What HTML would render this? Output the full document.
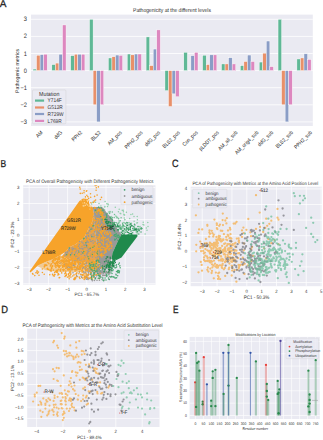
<!DOCTYPE html>
<html><head><meta charset="utf-8"><style>
html,body{margin:0;padding:0;background:#fff;width:323px;height:440px;overflow:hidden}
svg{display:block}
text{font-family:"Liberation Sans",sans-serif;text-rendering:geometricPrecision}
</style></head><body>
<svg width="323" height="440" viewBox="0 0 323 440">
<rect x="31.0" y="14.6" width="281.8" height="111.4" fill="#EAEAF2"/>
<line x1="31.0" x2="312.8" y1="121.90" y2="121.90" stroke="#fff" stroke-width="0.8"/>
<text transform="translate(27.00,123.90) scale(1,1.12)" font-size="5.7" text-anchor="end" fill="#333333" >−3</text>
<line x1="31.0" x2="312.8" y1="104.80" y2="104.80" stroke="#fff" stroke-width="0.8"/>
<text transform="translate(27.00,106.80) scale(1,1.12)" font-size="5.7" text-anchor="end" fill="#333333" >−2</text>
<line x1="31.0" x2="312.8" y1="87.70" y2="87.70" stroke="#fff" stroke-width="0.8"/>
<text transform="translate(27.00,89.70) scale(1,1.12)" font-size="5.7" text-anchor="end" fill="#333333" >−1</text>
<line x1="31.0" x2="312.8" y1="70.60" y2="70.60" stroke="#fff" stroke-width="0.8"/>
<text transform="translate(27.00,72.60) scale(1,1.12)" font-size="5.7" text-anchor="end" fill="#333333" >0</text>
<line x1="31.0" x2="312.8" y1="53.50" y2="53.50" stroke="#fff" stroke-width="0.8"/>
<text transform="translate(27.00,55.50) scale(1,1.12)" font-size="5.7" text-anchor="end" fill="#333333" >1</text>
<line x1="31.0" x2="312.8" y1="36.40" y2="36.40" stroke="#fff" stroke-width="0.8"/>
<text transform="translate(27.00,38.40) scale(1,1.12)" font-size="5.7" text-anchor="end" fill="#333333" >2</text>
<line x1="31.0" x2="312.8" y1="19.30" y2="19.30" stroke="#fff" stroke-width="0.8"/>
<text transform="translate(27.00,21.30) scale(1,1.12)" font-size="5.7" text-anchor="end" fill="#333333" >3</text>
<rect x="33.00" y="69.06" width="3.55" height="1.54" fill="#5fb896" stroke="#fff" stroke-width="0.4"/>
<rect x="36.55" y="55.21" width="3.55" height="15.39" fill="#e8906a" stroke="#fff" stroke-width="0.4"/>
<rect x="40.10" y="54.70" width="3.55" height="15.90" fill="#8a9dc6" stroke="#fff" stroke-width="0.4"/>
<rect x="43.65" y="54.18" width="3.55" height="16.42" fill="#dd87bf" stroke="#fff" stroke-width="0.4"/>
<text transform="translate(40.10,135.12) rotate(-45) scale(1,1.12)" font-size="4.8" text-anchor="middle" fill="#262626" dominant-baseline="central">AM</text>
<rect x="51.85" y="64.61" width="3.55" height="5.98" fill="#5fb896" stroke="#fff" stroke-width="0.4"/>
<rect x="55.40" y="63.08" width="3.55" height="7.52" fill="#e8906a" stroke="#fff" stroke-width="0.4"/>
<rect x="58.95" y="54.18" width="3.55" height="16.42" fill="#8a9dc6" stroke="#fff" stroke-width="0.4"/>
<rect x="62.50" y="24.94" width="3.55" height="45.66" fill="#dd87bf" stroke="#fff" stroke-width="0.4"/>
<text transform="translate(58.95,135.78) rotate(-45) scale(1,1.12)" font-size="4.8" text-anchor="middle" fill="#262626" dominant-baseline="central">ddG</text>
<rect x="70.70" y="55.72" width="3.55" height="14.88" fill="#5fb896" stroke="#fff" stroke-width="0.4"/>
<rect x="74.25" y="54.18" width="3.55" height="16.42" fill="#e8906a" stroke="#fff" stroke-width="0.4"/>
<rect x="77.80" y="54.18" width="3.55" height="16.42" fill="#8a9dc6" stroke="#fff" stroke-width="0.4"/>
<rect x="81.35" y="54.18" width="3.55" height="16.42" fill="#dd87bf" stroke="#fff" stroke-width="0.4"/>
<text transform="translate(77.80,137.01) rotate(-45) scale(1,1.12)" font-size="4.8" text-anchor="middle" fill="#262626" dominant-baseline="central">PPH2</text>
<rect x="89.55" y="19.30" width="3.55" height="51.30" fill="#5fb896" stroke="#fff" stroke-width="0.4"/>
<rect x="93.10" y="70.60" width="3.55" height="34.20" fill="#e8906a" stroke="#fff" stroke-width="0.4"/>
<rect x="96.65" y="70.60" width="3.55" height="51.30" fill="#8a9dc6" stroke="#fff" stroke-width="0.4"/>
<rect x="100.20" y="70.60" width="3.55" height="34.20" fill="#dd87bf" stroke="#fff" stroke-width="0.4"/>
<text transform="translate(96.65,136.72) rotate(-45) scale(1,1.12)" font-size="4.8" text-anchor="middle" fill="#262626" dominant-baseline="central">BLS2</text>
<rect x="108.40" y="57.95" width="3.55" height="12.65" fill="#5fb896" stroke="#fff" stroke-width="0.4"/>
<rect x="111.95" y="56.75" width="3.55" height="13.85" fill="#e8906a" stroke="#fff" stroke-width="0.4"/>
<rect x="115.50" y="55.04" width="3.55" height="15.56" fill="#8a9dc6" stroke="#fff" stroke-width="0.4"/>
<rect x="119.05" y="55.38" width="3.55" height="15.22" fill="#dd87bf" stroke="#fff" stroke-width="0.4"/>
<text transform="translate(115.50,138.80) rotate(-45) scale(1,1.12)" font-size="4.8" text-anchor="middle" fill="#262626" dominant-baseline="central">AM_pos</text>
<rect x="127.25" y="54.01" width="3.55" height="16.59" fill="#5fb896" stroke="#fff" stroke-width="0.4"/>
<rect x="130.80" y="54.87" width="3.55" height="15.73" fill="#e8906a" stroke="#fff" stroke-width="0.4"/>
<rect x="134.35" y="54.01" width="3.55" height="16.59" fill="#8a9dc6" stroke="#fff" stroke-width="0.4"/>
<rect x="137.90" y="54.01" width="3.55" height="16.59" fill="#dd87bf" stroke="#fff" stroke-width="0.4"/>
<text transform="translate(134.35,140.69) rotate(-45) scale(1,1.12)" font-size="4.8" text-anchor="middle" fill="#262626" dominant-baseline="central">PPH2_pos</text>
<rect x="146.10" y="36.91" width="3.55" height="33.69" fill="#5fb896" stroke="#fff" stroke-width="0.4"/>
<rect x="149.65" y="65.64" width="3.55" height="4.96" fill="#e8906a" stroke="#fff" stroke-width="0.4"/>
<rect x="153.20" y="49.05" width="3.55" height="21.55" fill="#8a9dc6" stroke="#fff" stroke-width="0.4"/>
<rect x="156.75" y="29.90" width="3.55" height="40.70" fill="#dd87bf" stroke="#fff" stroke-width="0.4"/>
<text transform="translate(153.20,139.46) rotate(-45) scale(1,1.12)" font-size="4.8" text-anchor="middle" fill="#262626" dominant-baseline="central">ddG_pos</text>
<rect x="164.95" y="70.60" width="3.55" height="20.01" fill="#5fb896" stroke="#fff" stroke-width="0.4"/>
<rect x="168.50" y="70.60" width="3.55" height="35.91" fill="#e8906a" stroke="#fff" stroke-width="0.4"/>
<rect x="172.05" y="70.60" width="3.55" height="23.26" fill="#8a9dc6" stroke="#fff" stroke-width="0.4"/>
<rect x="175.60" y="70.60" width="3.55" height="26.16" fill="#dd87bf" stroke="#fff" stroke-width="0.4"/>
<text transform="translate(172.05,140.40) rotate(-45) scale(1,1.12)" font-size="4.8" text-anchor="middle" fill="#262626" dominant-baseline="central">BLS2_pos</text>
<rect x="183.80" y="52.30" width="3.55" height="18.30" fill="#5fb896" stroke="#fff" stroke-width="0.4"/>
<rect x="190.90" y="55.72" width="3.55" height="14.88" fill="#8a9dc6" stroke="#fff" stroke-width="0.4"/>
<rect x="194.45" y="52.30" width="3.55" height="18.30" fill="#dd87bf" stroke="#fff" stroke-width="0.4"/>
<text transform="translate(190.90,139.37) rotate(-45) scale(1,1.12)" font-size="4.8" text-anchor="middle" fill="#262626" dominant-baseline="central">Con_pos</text>
<rect x="202.65" y="55.21" width="3.55" height="15.39" fill="#5fb896" stroke="#fff" stroke-width="0.4"/>
<rect x="206.20" y="64.61" width="3.55" height="5.98" fill="#e8906a" stroke="#fff" stroke-width="0.4"/>
<rect x="209.75" y="54.87" width="3.55" height="15.73" fill="#8a9dc6" stroke="#fff" stroke-width="0.4"/>
<rect x="213.30" y="54.87" width="3.55" height="15.73" fill="#dd87bf" stroke="#fff" stroke-width="0.4"/>
<text transform="translate(209.75,141.63) rotate(-45) scale(1,1.12)" font-size="4.8" text-anchor="middle" fill="#262626" dominant-baseline="central">pLDDT_pos</text>
<rect x="221.50" y="63.93" width="3.55" height="6.67" fill="#5fb896" stroke="#fff" stroke-width="0.4"/>
<rect x="225.05" y="63.93" width="3.55" height="6.67" fill="#e8906a" stroke="#fff" stroke-width="0.4"/>
<rect x="228.60" y="57.77" width="3.55" height="12.83" fill="#8a9dc6" stroke="#fff" stroke-width="0.4"/>
<rect x="232.15" y="63.93" width="3.55" height="6.67" fill="#dd87bf" stroke="#fff" stroke-width="0.4"/>
<text transform="translate(228.60,141.44) rotate(-45) scale(1,1.12)" font-size="4.8" text-anchor="middle" fill="#262626" dominant-baseline="central">AM_all_sub</text>
<rect x="240.35" y="65.64" width="3.55" height="4.96" fill="#5fb896" stroke="#fff" stroke-width="0.4"/>
<rect x="243.90" y="61.54" width="3.55" height="9.06" fill="#e8906a" stroke="#fff" stroke-width="0.4"/>
<rect x="247.45" y="55.04" width="3.55" height="15.56" fill="#8a9dc6" stroke="#fff" stroke-width="0.4"/>
<rect x="251.00" y="61.54" width="3.55" height="9.06" fill="#dd87bf" stroke="#fff" stroke-width="0.4"/>
<text transform="translate(247.45,143.51) rotate(-45) scale(1,1.12)" font-size="4.8" text-anchor="middle" fill="#262626" dominant-baseline="central">AM_orig4_sub</text>
<rect x="259.20" y="62.05" width="3.55" height="8.55" fill="#5fb896" stroke="#fff" stroke-width="0.4"/>
<rect x="262.75" y="53.16" width="3.55" height="17.44" fill="#e8906a" stroke="#fff" stroke-width="0.4"/>
<rect x="266.30" y="41.02" width="3.55" height="29.58" fill="#8a9dc6" stroke="#fff" stroke-width="0.4"/>
<rect x="269.85" y="66.67" width="3.55" height="3.93" fill="#dd87bf" stroke="#fff" stroke-width="0.4"/>
<text transform="translate(266.30,139.46) rotate(-45) scale(1,1.12)" font-size="4.8" text-anchor="middle" fill="#262626" dominant-baseline="central">ddG_sub</text>
<rect x="278.05" y="19.30" width="3.55" height="51.30" fill="#5fb896" stroke="#fff" stroke-width="0.4"/>
<rect x="281.60" y="70.60" width="3.55" height="34.20" fill="#e8906a" stroke="#fff" stroke-width="0.4"/>
<rect x="285.15" y="70.60" width="3.55" height="51.30" fill="#8a9dc6" stroke="#fff" stroke-width="0.4"/>
<rect x="288.70" y="70.60" width="3.55" height="34.20" fill="#dd87bf" stroke="#fff" stroke-width="0.4"/>
<text transform="translate(285.15,140.40) rotate(-45) scale(1,1.12)" font-size="4.8" text-anchor="middle" fill="#262626" dominant-baseline="central">BLS2_sub</text>
<rect x="296.90" y="58.97" width="3.55" height="11.63" fill="#5fb896" stroke="#fff" stroke-width="0.4"/>
<rect x="300.45" y="57.95" width="3.55" height="12.65" fill="#e8906a" stroke="#fff" stroke-width="0.4"/>
<rect x="304.00" y="53.84" width="3.55" height="16.76" fill="#8a9dc6" stroke="#fff" stroke-width="0.4"/>
<rect x="307.55" y="59.48" width="3.55" height="11.12" fill="#dd87bf" stroke="#fff" stroke-width="0.4"/>
<text transform="translate(304.00,140.69) rotate(-45) scale(1,1.12)" font-size="4.8" text-anchor="middle" fill="#262626" dominant-baseline="central">PPH2_sub</text>
<text transform="translate(172.00,12.00) scale(1,1.12)" font-size="5.04" text-anchor="middle" fill="#333333" >Pathogenicity at the different levels</text>
<text transform="translate(19.2,70.9) rotate(-90)" font-size="5.2" text-anchor="middle" fill="#262626">Pathogenic metrics</text>
<rect x="32.5" y="89.9" width="33.4" height="33.9" rx="1" fill="#EAEAF2" fill-opacity="0.8" stroke="#ccc" stroke-width="0.4"/>
<text transform="translate(49.20,96.00) scale(1,1.12)" font-size="5.3" text-anchor="middle" fill="#333333" >Mutation</text>
<rect x="35" y="99.50" width="9.1" height="2.2" fill="#5fb896"/>
<text transform="translate(47.60,102.30) scale(1,1.12)" font-size="4.8" text-anchor="start" fill="#333333" >Y714F</text>
<rect x="35" y="106.40" width="9.1" height="2.2" fill="#e8906a"/>
<text transform="translate(47.60,109.20) scale(1,1.12)" font-size="4.8" text-anchor="start" fill="#333333" >G512R</text>
<rect x="35" y="112.90" width="9.1" height="2.2" fill="#8a9dc6"/>
<text transform="translate(47.60,115.70) scale(1,1.12)" font-size="4.8" text-anchor="start" fill="#333333" >R729W</text>
<rect x="35" y="119.80" width="9.1" height="2.2" fill="#dd87bf"/>
<text transform="translate(47.60,122.60) scale(1,1.12)" font-size="4.8" text-anchor="start" fill="#333333" >L769R</text>
<text transform="translate(-0.3,6.9) scale(1.0,1)" font-size="10.0" fill="#262626" stroke="#262626" stroke-width="0.3">A</text>
<rect x="23.2" y="185.2" width="132.3" height="99.60000000000002" fill="#EAEAF2"/>
<line x1="29.20" x2="29.20" y1="185.2" y2="284.8" stroke="#fff" stroke-width="0.7"/>
<line x1="23.2" x2="155.5" y1="283.75" y2="283.75" stroke="#fff" stroke-width="0.7"/>
<text transform="translate(19.50,285.25) scale(1,1.12)" font-size="4.3" text-anchor="end" fill="#333333" >−3</text>
<text transform="translate(29.20,290.80) scale(1,1.12)" font-size="4.3" text-anchor="middle" fill="#333333" >−3</text>
<line x1="48.40" x2="48.40" y1="185.2" y2="284.8" stroke="#fff" stroke-width="0.7"/>
<line x1="23.2" x2="155.5" y1="267.70" y2="267.70" stroke="#fff" stroke-width="0.7"/>
<text transform="translate(19.50,269.20) scale(1,1.12)" font-size="4.3" text-anchor="end" fill="#333333" >−2</text>
<text transform="translate(48.40,290.80) scale(1,1.12)" font-size="4.3" text-anchor="middle" fill="#333333" >−2</text>
<line x1="67.60" x2="67.60" y1="185.2" y2="284.8" stroke="#fff" stroke-width="0.7"/>
<line x1="23.2" x2="155.5" y1="251.65" y2="251.65" stroke="#fff" stroke-width="0.7"/>
<text transform="translate(19.50,253.15) scale(1,1.12)" font-size="4.3" text-anchor="end" fill="#333333" >−1</text>
<text transform="translate(67.60,290.80) scale(1,1.12)" font-size="4.3" text-anchor="middle" fill="#333333" >−1</text>
<line x1="86.80" x2="86.80" y1="185.2" y2="284.8" stroke="#fff" stroke-width="0.7"/>
<line x1="23.2" x2="155.5" y1="235.60" y2="235.60" stroke="#fff" stroke-width="0.7"/>
<text transform="translate(19.50,237.10) scale(1,1.12)" font-size="4.3" text-anchor="end" fill="#333333" >0</text>
<text transform="translate(86.80,290.80) scale(1,1.12)" font-size="4.3" text-anchor="middle" fill="#333333" >0</text>
<line x1="106.00" x2="106.00" y1="185.2" y2="284.8" stroke="#fff" stroke-width="0.7"/>
<line x1="23.2" x2="155.5" y1="219.55" y2="219.55" stroke="#fff" stroke-width="0.7"/>
<text transform="translate(19.50,221.05) scale(1,1.12)" font-size="4.3" text-anchor="end" fill="#333333" >1</text>
<text transform="translate(106.00,290.80) scale(1,1.12)" font-size="4.3" text-anchor="middle" fill="#333333" >1</text>
<line x1="125.20" x2="125.20" y1="185.2" y2="284.8" stroke="#fff" stroke-width="0.7"/>
<line x1="23.2" x2="155.5" y1="203.50" y2="203.50" stroke="#fff" stroke-width="0.7"/>
<text transform="translate(19.50,205.00) scale(1,1.12)" font-size="4.3" text-anchor="end" fill="#333333" >2</text>
<text transform="translate(125.20,290.80) scale(1,1.12)" font-size="4.3" text-anchor="middle" fill="#333333" >2</text>
<line x1="144.40" x2="144.40" y1="185.2" y2="284.8" stroke="#fff" stroke-width="0.7"/>
<line x1="23.2" x2="155.5" y1="187.45" y2="187.45" stroke="#fff" stroke-width="0.7"/>
<text transform="translate(19.50,188.95) scale(1,1.12)" font-size="4.3" text-anchor="end" fill="#333333" >3</text>
<text transform="translate(144.40,290.80) scale(1,1.12)" font-size="4.3" text-anchor="middle" fill="#333333" >3</text>
<text transform="translate(89.80,182.60) scale(1,1.12)" font-size="4.44" text-anchor="middle" fill="#333333" >PCA of Overall Pathogenicity with Different Pathogenicity Metrics</text>
<text transform="translate(86.80,296.40) scale(1,1.12)" font-size="4.3" text-anchor="middle" fill="#333333" >PC1 - 65.7%</text>
<text transform="translate(13.6,234.6) rotate(-90)" font-size="4.6" text-anchor="middle" fill="#262626">PC2 - 23.3%</text>
<text transform="translate(0.5,166.7) scale(0.85,1)" font-size="10.0" fill="#262626" stroke="#262626" stroke-width="0.3">B</text>
<rect x="190.6" y="186.7" width="131.4" height="99.5" fill="#EAEAF2"/>
<line x1="202.22" x2="202.22" y1="186.7" y2="286.2" stroke="#fff" stroke-width="0.7"/>
<text transform="translate(202.22,293.00) scale(1,1.12)" font-size="4.3" text-anchor="middle" fill="#333333" >−3</text>
<line x1="217.08" x2="217.08" y1="186.7" y2="286.2" stroke="#fff" stroke-width="0.7"/>
<text transform="translate(217.08,293.00) scale(1,1.12)" font-size="4.3" text-anchor="middle" fill="#333333" >−2</text>
<line x1="231.94" x2="231.94" y1="186.7" y2="286.2" stroke="#fff" stroke-width="0.7"/>
<text transform="translate(231.94,293.00) scale(1,1.12)" font-size="4.3" text-anchor="middle" fill="#333333" >−1</text>
<line x1="246.80" x2="246.80" y1="186.7" y2="286.2" stroke="#fff" stroke-width="0.7"/>
<text transform="translate(246.80,293.00) scale(1,1.12)" font-size="4.3" text-anchor="middle" fill="#333333" >0</text>
<line x1="261.66" x2="261.66" y1="186.7" y2="286.2" stroke="#fff" stroke-width="0.7"/>
<text transform="translate(261.66,293.00) scale(1,1.12)" font-size="4.3" text-anchor="middle" fill="#333333" >1</text>
<line x1="276.52" x2="276.52" y1="186.7" y2="286.2" stroke="#fff" stroke-width="0.7"/>
<text transform="translate(276.52,293.00) scale(1,1.12)" font-size="4.3" text-anchor="middle" fill="#333333" >2</text>
<line x1="291.38" x2="291.38" y1="186.7" y2="286.2" stroke="#fff" stroke-width="0.7"/>
<text transform="translate(291.38,293.00) scale(1,1.12)" font-size="4.3" text-anchor="middle" fill="#333333" >3</text>
<line x1="306.24" x2="306.24" y1="186.7" y2="286.2" stroke="#fff" stroke-width="0.7"/>
<text transform="translate(306.24,293.00) scale(1,1.12)" font-size="4.3" text-anchor="middle" fill="#333333" >4</text>
<line x1="321.10" x2="321.10" y1="186.7" y2="286.2" stroke="#fff" stroke-width="0.7"/>
<text transform="translate(321.10,293.00) scale(1,1.12)" font-size="4.3" text-anchor="middle" fill="#333333" >5</text>
<line x1="190.6" x2="322.0" y1="282.50" y2="282.50" stroke="#fff" stroke-width="0.7"/>
<text transform="translate(187.20,284.00) scale(1,1.12)" font-size="4.3" text-anchor="end" fill="#333333" >−2</text>
<line x1="190.6" x2="322.0" y1="266.90" y2="266.90" stroke="#fff" stroke-width="0.7"/>
<text transform="translate(187.20,268.40) scale(1,1.12)" font-size="4.3" text-anchor="end" fill="#333333" >−1</text>
<line x1="190.6" x2="322.0" y1="251.30" y2="251.30" stroke="#fff" stroke-width="0.7"/>
<text transform="translate(187.20,252.80) scale(1,1.12)" font-size="4.3" text-anchor="end" fill="#333333" >0</text>
<line x1="190.6" x2="322.0" y1="235.70" y2="235.70" stroke="#fff" stroke-width="0.7"/>
<text transform="translate(187.20,237.20) scale(1,1.12)" font-size="4.3" text-anchor="end" fill="#333333" >1</text>
<line x1="190.6" x2="322.0" y1="220.10" y2="220.10" stroke="#fff" stroke-width="0.7"/>
<text transform="translate(187.20,221.60) scale(1,1.12)" font-size="4.3" text-anchor="end" fill="#333333" >2</text>
<line x1="190.6" x2="322.0" y1="204.50" y2="204.50" stroke="#fff" stroke-width="0.7"/>
<text transform="translate(187.20,206.00) scale(1,1.12)" font-size="4.3" text-anchor="end" fill="#333333" >3</text>
<line x1="190.6" x2="322.0" y1="188.90" y2="188.90" stroke="#fff" stroke-width="0.7"/>
<text transform="translate(187.20,190.40) scale(1,1.12)" font-size="4.3" text-anchor="end" fill="#333333" >4</text>
<text transform="translate(255.30,185.10) scale(1,1.12)" font-size="4.28" text-anchor="middle" fill="#333333" >PCA of Pathogenicity with Metrics at the Amino Acid Position Level</text>
<text transform="translate(256.50,298.50) scale(1,1.12)" font-size="4.5" text-anchor="middle" fill="#333333" >PC1 - 50.3%</text>
<text transform="translate(181.3,236.6) rotate(-90)" font-size="4.6" text-anchor="middle" fill="#262626">PC2 - 18.4%</text>
<text transform="translate(171.9,167.2) scale(0.85,1)" font-size="10.6" fill="#262626" stroke="#262626" stroke-width="0.3">C</text>
<rect x="27.2" y="328.6" width="132.3" height="98.39999999999998" fill="#EAEAF2"/>
<line x1="36.60" x2="36.60" y1="328.6" y2="427.0" stroke="#fff" stroke-width="0.7"/>
<text transform="translate(36.60,433.40) scale(1,1.12)" font-size="4.3" text-anchor="middle" fill="#333333" >−4</text>
<line x1="63.00" x2="63.00" y1="328.6" y2="427.0" stroke="#fff" stroke-width="0.7"/>
<text transform="translate(63.00,433.40) scale(1,1.12)" font-size="4.3" text-anchor="middle" fill="#333333" >−2</text>
<line x1="89.40" x2="89.40" y1="328.6" y2="427.0" stroke="#fff" stroke-width="0.7"/>
<text transform="translate(89.40,433.40) scale(1,1.12)" font-size="4.3" text-anchor="middle" fill="#333333" >0</text>
<line x1="115.80" x2="115.80" y1="328.6" y2="427.0" stroke="#fff" stroke-width="0.7"/>
<text transform="translate(115.80,433.40) scale(1,1.12)" font-size="4.3" text-anchor="middle" fill="#333333" >2</text>
<line x1="142.20" x2="142.20" y1="328.6" y2="427.0" stroke="#fff" stroke-width="0.7"/>
<text transform="translate(142.20,433.40) scale(1,1.12)" font-size="4.3" text-anchor="middle" fill="#333333" >4</text>
<line x1="27.2" x2="159.5" y1="418.40" y2="418.40" stroke="#fff" stroke-width="0.7"/>
<text transform="translate(23.50,419.90) scale(1,1.12)" font-size="4.3" text-anchor="end" fill="#333333" >−1.5</text>
<line x1="27.2" x2="159.5" y1="407.10" y2="407.10" stroke="#fff" stroke-width="0.7"/>
<text transform="translate(23.50,408.60) scale(1,1.12)" font-size="4.3" text-anchor="end" fill="#333333" >−1.0</text>
<line x1="27.2" x2="159.5" y1="395.80" y2="395.80" stroke="#fff" stroke-width="0.7"/>
<text transform="translate(23.50,397.30) scale(1,1.12)" font-size="4.3" text-anchor="end" fill="#333333" >−0.5</text>
<line x1="27.2" x2="159.5" y1="384.50" y2="384.50" stroke="#fff" stroke-width="0.7"/>
<text transform="translate(23.50,386.00) scale(1,1.12)" font-size="4.3" text-anchor="end" fill="#333333" >0.0</text>
<line x1="27.2" x2="159.5" y1="373.20" y2="373.20" stroke="#fff" stroke-width="0.7"/>
<text transform="translate(23.50,374.70) scale(1,1.12)" font-size="4.3" text-anchor="end" fill="#333333" >0.5</text>
<line x1="27.2" x2="159.5" y1="361.90" y2="361.90" stroke="#fff" stroke-width="0.7"/>
<text transform="translate(23.50,363.40) scale(1,1.12)" font-size="4.3" text-anchor="end" fill="#333333" >1.0</text>
<line x1="27.2" x2="159.5" y1="350.60" y2="350.60" stroke="#fff" stroke-width="0.7"/>
<text transform="translate(23.50,352.10) scale(1,1.12)" font-size="4.3" text-anchor="end" fill="#333333" >1.5</text>
<line x1="27.2" x2="159.5" y1="339.30" y2="339.30" stroke="#fff" stroke-width="0.7"/>
<text transform="translate(23.50,340.80) scale(1,1.12)" font-size="4.3" text-anchor="end" fill="#333333" >2.0</text>
<text transform="translate(22.50,327.00) scale(1,1.12)" font-size="4.5" text-anchor="start" fill="#333333" >PCA of Pathogenicity with Metrics at the Amino Acid Substitution Level</text>
<text transform="translate(89.40,439.00) scale(1,1.12)" font-size="4.3" text-anchor="middle" fill="#333333" >PC1 - 89.4%</text>
<text transform="translate(13.6,378) rotate(-90)" font-size="4.6" text-anchor="middle" fill="#262626">PC2 - 13.1%</text>
<text transform="translate(1.2,313.0) scale(0.9,1)" font-size="10.4" fill="#262626" stroke="#262626" stroke-width="0.3">D</text>
<rect x="189.6" y="336.9" width="130.20000000000002" height="82.10000000000002" fill="#EAEAF2"/>
<line x1="195.40" x2="195.40" y1="336.9" y2="419.0" stroke="#fff" stroke-width="0.6"/>
<text transform="translate(195.40,424.60) scale(1,1.12)" font-size="3.4" text-anchor="middle" fill="#333333" >0</text>
<line x1="203.42" x2="203.42" y1="336.9" y2="419.0" stroke="#fff" stroke-width="0.6"/>
<text transform="translate(203.42,424.60) scale(1,1.12)" font-size="3.4" text-anchor="middle" fill="#333333" >50</text>
<line x1="211.43" x2="211.43" y1="336.9" y2="419.0" stroke="#fff" stroke-width="0.6"/>
<text transform="translate(211.43,424.60) scale(1,1.12)" font-size="3.4" text-anchor="middle" fill="#333333" >100</text>
<line x1="219.44" x2="219.44" y1="336.9" y2="419.0" stroke="#fff" stroke-width="0.6"/>
<text transform="translate(219.44,424.60) scale(1,1.12)" font-size="3.4" text-anchor="middle" fill="#333333" >150</text>
<line x1="227.46" x2="227.46" y1="336.9" y2="419.0" stroke="#fff" stroke-width="0.6"/>
<text transform="translate(227.46,424.60) scale(1,1.12)" font-size="3.4" text-anchor="middle" fill="#333333" >200</text>
<line x1="235.48" x2="235.48" y1="336.9" y2="419.0" stroke="#fff" stroke-width="0.6"/>
<text transform="translate(235.48,424.60) scale(1,1.12)" font-size="3.4" text-anchor="middle" fill="#333333" >250</text>
<line x1="243.49" x2="243.49" y1="336.9" y2="419.0" stroke="#fff" stroke-width="0.6"/>
<text transform="translate(243.49,424.60) scale(1,1.12)" font-size="3.4" text-anchor="middle" fill="#333333" >300</text>
<line x1="251.50" x2="251.50" y1="336.9" y2="419.0" stroke="#fff" stroke-width="0.6"/>
<text transform="translate(251.50,424.60) scale(1,1.12)" font-size="3.4" text-anchor="middle" fill="#333333" >350</text>
<line x1="259.52" x2="259.52" y1="336.9" y2="419.0" stroke="#fff" stroke-width="0.6"/>
<text transform="translate(259.52,424.60) scale(1,1.12)" font-size="3.4" text-anchor="middle" fill="#333333" >400</text>
<line x1="267.54" x2="267.54" y1="336.9" y2="419.0" stroke="#fff" stroke-width="0.6"/>
<text transform="translate(267.54,424.60) scale(1,1.12)" font-size="3.4" text-anchor="middle" fill="#333333" >450</text>
<line x1="275.55" x2="275.55" y1="336.9" y2="419.0" stroke="#fff" stroke-width="0.6"/>
<text transform="translate(275.55,424.60) scale(1,1.12)" font-size="3.4" text-anchor="middle" fill="#333333" >500</text>
<line x1="283.56" x2="283.56" y1="336.9" y2="419.0" stroke="#fff" stroke-width="0.6"/>
<text transform="translate(283.56,424.60) scale(1,1.12)" font-size="3.4" text-anchor="middle" fill="#333333" >550</text>
<line x1="291.58" x2="291.58" y1="336.9" y2="419.0" stroke="#fff" stroke-width="0.6"/>
<text transform="translate(291.58,424.60) scale(1,1.12)" font-size="3.4" text-anchor="middle" fill="#333333" >600</text>
<line x1="299.60" x2="299.60" y1="336.9" y2="419.0" stroke="#fff" stroke-width="0.6"/>
<text transform="translate(299.60,424.60) scale(1,1.12)" font-size="3.4" text-anchor="middle" fill="#333333" >650</text>
<line x1="307.61" x2="307.61" y1="336.9" y2="419.0" stroke="#fff" stroke-width="0.6"/>
<text transform="translate(307.61,424.60) scale(1,1.12)" font-size="3.4" text-anchor="middle" fill="#333333" >700</text>
<line x1="315.62" x2="315.62" y1="336.9" y2="419.0" stroke="#fff" stroke-width="0.6"/>
<text transform="translate(315.62,424.60) scale(1,1.12)" font-size="3.4" text-anchor="middle" fill="#333333" >750</text>
<line x1="189.6" x2="319.8" y1="415.50" y2="415.50" stroke="#fff" stroke-width="0.6"/>
<text transform="translate(187.00,416.70) scale(1,1.12)" font-size="3.4" text-anchor="end" fill="#333333" >0</text>
<line x1="189.6" x2="319.8" y1="403.15" y2="403.15" stroke="#fff" stroke-width="0.6"/>
<text transform="translate(187.00,404.35) scale(1,1.12)" font-size="3.4" text-anchor="end" fill="#333333" >10</text>
<line x1="189.6" x2="319.8" y1="390.80" y2="390.80" stroke="#fff" stroke-width="0.6"/>
<text transform="translate(187.00,392.00) scale(1,1.12)" font-size="3.4" text-anchor="end" fill="#333333" >20</text>
<line x1="189.6" x2="319.8" y1="378.45" y2="378.45" stroke="#fff" stroke-width="0.6"/>
<text transform="translate(187.00,379.65) scale(1,1.12)" font-size="3.4" text-anchor="end" fill="#333333" >30</text>
<line x1="189.6" x2="319.8" y1="366.10" y2="366.10" stroke="#fff" stroke-width="0.6"/>
<text transform="translate(187.00,367.30) scale(1,1.12)" font-size="3.4" text-anchor="end" fill="#333333" >40</text>
<line x1="189.6" x2="319.8" y1="353.75" y2="353.75" stroke="#fff" stroke-width="0.6"/>
<text transform="translate(187.00,354.95) scale(1,1.12)" font-size="3.4" text-anchor="end" fill="#333333" >50</text>
<line x1="189.6" x2="319.8" y1="341.40" y2="341.40" stroke="#fff" stroke-width="0.6"/>
<text transform="translate(187.00,342.60) scale(1,1.12)" font-size="3.4" text-anchor="end" fill="#333333" >60</text>
<text transform="translate(255.50,335.60) scale(1,1.12)" font-size="3.55" text-anchor="middle" fill="#333333" >Modifications by Location</text>
<text transform="translate(255.30,429.60) scale(1,1.12)" font-size="3.47" text-anchor="middle" fill="#333333" >Residue number</text>
<text transform="translate(181.8,377) rotate(-90)" font-size="3.8" text-anchor="middle" fill="#262626">Secondary Structure ASA (%)</text>
<text transform="translate(172.9,313.0) scale(0.78,1)" font-size="10.6" fill="#262626" stroke="#262626" stroke-width="0.3">E</text>
<clipPath id="cpB"><rect x="23.2" y="185.2" width="132.3" height="99.6"/></clipPath><g clip-path="url(#cpB)">
<polygon points="37.0,266.0 58.8,256.0 85.7,256.0 100.0,259.0 106.0,266.0 90.0,272.0 60.0,272.0 45.0,270.0" fill="#f7a32a" fill-opacity="0.45"/>
<polygon points="90.0,262.0 100.0,259.0 108.0,264.0 112.0,272.0 95.0,276.0 85.0,272.0" fill="#999999" fill-opacity="0.3"/>
<path d="M76.2 258.1h0M92.5 256.0h0M86.8 263.9h0M81.2 276.3h0M91.4 279.6h0M88.9 264.7h0M102.9 261.8h0M69.0 269.7h0M91.9 264.1h0M87.4 255.7h0M94.0 265.5h0M75.7 269.8h0M82.7 262.1h0M99.7 272.9h0M72.2 269.5h0M86.3 277.6h0M96.5 261.8h0M80.9 274.4h0M67.6 267.2h0M98.2 269.5h0M103.8 262.5h0M94.8 270.0h0M89.0 266.3h0M102.0 279.5h0M83.7 271.9h0M92.4 280.8h0M101.1 261.7h0M79.3 272.1h0M66.5 260.7h0M64.0 266.1h0M87.5 277.9h0M101.0 277.3h0M73.9 265.2h0M68.8 260.3h0M71.7 267.1h0M89.5 261.1h0M78.5 269.3h0M107.7 272.6h0M85.8 270.7h0M93.8 255.5h0M105.0 275.1h0M103.7 275.5h0M79.6 264.8h0M65.1 263.8h0M90.7 258.0h0M72.6 263.4h0M78.2 257.3h0M83.3 267.1h0M77.1 261.1h0M101.4 258.4h0M86.4 258.0h0M103.2 272.8h0M73.1 263.9h0M86.6 275.0h0M76.5 260.0h0M102.6 275.8h0M100.9 274.0h0M71.3 268.0h0M73.0 272.7h0M107.8 266.1h0M107.8 263.8h0M71.0 260.1h0M69.8 259.5h0M91.2 278.3h0M102.0 266.9h0M92.6 275.6h0M105.5 275.1h0M97.5 266.9h0M76.6 275.6h0M108.6 264.7h0M96.2 258.6h0M105.2 275.8h0M109.0 271.7h0M77.5 268.8h0M108.5 271.5h0M86.3 279.2h0M81.7 277.5h0M101.3 259.7h0M72.6 261.9h0M72.0 269.8h0M73.0 265.3h0M77.7 266.4h0M89.2 278.4h0M85.1 268.4h0M82.0 258.9h0M68.6 266.8h0M96.3 269.0h0M76.3 268.0h0M87.8 275.2h0M72.4 261.5h0M98.6 267.7h0M88.1 274.5h0M105.6 266.0h0M90.6 267.6h0M85.6 272.7h0M82.6 268.4h0M95.0 277.7h0M107.1 261.0h0M88.0 279.5h0M102.0 257.7h0M66.1 265.9h0M99.2 278.2h0M93.0 257.9h0M104.1 280.1h0M79.9 267.2h0M109.5 276.5h0M68.1 265.7h0M85.8 263.2h0M69.8 262.6h0M96.1 254.5h0M87.7 265.9h0M60.9 263.0h0M91.2 267.8h0M99.4 280.2h0M65.2 261.2h0M100.9 261.0h0M88.5 272.9h0M94.4 265.5h0M91.7 275.6h0M82.7 263.2h0M87.7 279.0h0M86.3 260.4h0M75.6 262.2h0M98.0 261.8h0M85.0 258.8h0M96.7 268.9h0M69.5 266.8h0M100.9 265.7h0M84.8 276.5h0M79.7 267.7h0M94.4 280.5h0M77.1 276.5h0M95.3 271.2h0M80.2 263.4h0M72.8 258.4h0M103.5 272.1h0M74.1 260.5h0M74.7 266.4h0M67.9 266.0h0M108.6 268.8h0M75.5 263.6h0M83.7 267.6h0M70.0 267.6h0M64.5 264.8h0M75.2 260.3h0M89.3 268.3h0M97.5 271.8h0M95.8 277.7h0M79.5 262.8h0M96.2 271.4h0M104.6 270.9h0M96.7 275.9h0M67.0 268.1h0M85.2 276.5h0M100.2 276.3h0M89.2 278.1h0M94.1 272.7h0M66.7 263.7h0M87.9 270.9h0M91.3 272.4h0M99.9 274.2h0M85.1 268.5h0M93.0 255.8h0M96.8 260.8h0M63.7 261.2h0M96.5 259.5h0M97.0 280.3h0M84.7 264.3h0M84.0 272.5h0M98.3 270.7h0M92.1 256.1h0M67.4 260.9h0M97.2 262.2h0M63.0 261.3h0M93.6 272.7h0M93.8 261.9h0M85.8 266.5h0M83.3 257.2h0M104.7 259.4h0M108.9 279.3h0" stroke="#999999" stroke-width="1.6" stroke-linecap="round"/>
<path d="M103.0 274.3h0M92.6 258.2h0M85.9 265.4h0M84.0 264.1h0M103.0 263.7h0M104.8 268.2h0M92.6 258.9h0M83.9 259.9h0M88.9 271.3h0M105.9 268.4h0M90.4 261.0h0M90.1 261.8h0M87.0 258.1h0M94.3 256.4h0M104.8 270.7h0M97.7 273.0h0M106.3 264.6h0M100.5 262.4h0M101.1 266.8h0M93.2 259.9h0M88.3 269.0h0M98.4 258.9h0M95.6 261.1h0M93.9 257.1h0M92.6 255.2h0M86.7 257.9h0M95.9 272.4h0M101.0 261.5h0M91.6 264.1h0M90.6 259.8h0M81.7 258.4h0M94.1 266.5h0M87.6 257.7h0M91.2 262.3h0M105.1 262.9h0M103.1 271.7h0M94.6 267.7h0M98.1 269.6h0M92.8 264.7h0M98.1 259.0h0M83.6 257.8h0M97.8 268.1h0M94.7 265.4h0M90.9 257.1h0M88.4 262.6h0M104.7 262.9h0M86.6 257.7h0M94.0 267.5h0M91.8 257.9h0M98.7 273.3h0M89.5 261.7h0M99.1 256.6h0M102.3 269.0h0M94.1 256.7h0M86.2 269.5h0M93.9 256.3h0M86.3 261.6h0M98.6 273.8h0M84.1 261.0h0M81.7 261.0h0M98.6 260.7h0M90.5 259.6h0M87.8 260.1h0M90.0 270.9h0M103.0 261.9h0M85.4 260.4h0M91.5 270.7h0M100.9 272.7h0M89.5 258.3h0M87.3 268.5h0M88.9 258.3h0M105.7 266.6h0M86.5 262.9h0M90.8 257.8h0M92.0 263.3h0M102.5 269.0h0M103.0 269.8h0M97.0 259.5h0M88.9 260.3h0M85.5 269.3h0M82.7 263.5h0M99.9 262.3h0M86.6 261.6h0M97.4 267.5h0M100.9 271.5h0M98.6 254.8h0M103.5 258.8h0M95.9 260.6h0M100.7 256.6h0M86.9 257.6h0M96.2 259.5h0M94.2 257.3h0M102.6 267.0h0M93.3 270.8h0M103.5 273.0h0M81.1 258.8h0M106.0 260.6h0M104.3 262.3h0M87.3 269.9h0M96.7 266.3h0" stroke="#999999" stroke-width="1.6" stroke-linecap="round"/>
<path d="M57.8 264.2h0M53.3 260.1h0M60.0 270.0h0M83.4 260.1h0M85.0 259.6h0M63.4 260.1h0M91.9 268.7h0M68.3 268.8h0M82.7 257.3h0M54.7 272.4h0M69.2 262.1h0M63.4 269.2h0M66.1 265.4h0M66.5 259.9h0M88.0 260.1h0M70.0 275.5h0M69.0 277.1h0M72.2 259.1h0M82.8 277.7h0M50.3 270.6h0M66.9 267.6h0M53.6 262.1h0M75.7 278.1h0M51.4 267.3h0M92.5 279.2h0M56.6 258.2h0M73.5 256.3h0M99.6 264.7h0M98.3 270.5h0M93.6 259.0h0M91.4 260.6h0M68.9 276.2h0M93.9 259.6h0M57.9 265.0h0M75.6 264.6h0M52.3 261.2h0M87.8 277.4h0M47.4 269.1h0M89.7 256.0h0M94.5 257.9h0M80.4 268.8h0M82.0 262.7h0M69.8 269.6h0M70.1 271.5h0M71.4 266.0h0M73.9 260.9h0M90.1 274.5h0M72.0 259.5h0M72.9 257.7h0M52.6 265.8h0M50.4 266.0h0M75.1 256.0h0M82.5 257.1h0M88.3 274.4h0M75.2 256.4h0M74.7 264.4h0M88.2 275.4h0M74.0 278.9h0M99.0 259.1h0M91.5 278.3h0M48.9 263.8h0M89.6 259.0h0M97.9 261.9h0M93.1 258.6h0M74.6 278.0h0M57.3 261.6h0M74.9 263.0h0M85.1 277.4h0M55.0 274.6h0M51.8 268.3h0M82.5 264.0h0M96.5 268.9h0M79.2 277.1h0M82.2 264.9h0M92.1 261.6h0M66.3 274.1h0M71.1 259.4h0M88.9 256.2h0M93.4 261.3h0M79.6 271.6h0M81.3 265.8h0M75.2 277.4h0M52.8 260.7h0M83.5 255.6h0M51.3 263.9h0M58.2 269.6h0M79.8 260.1h0M81.8 266.9h0M59.4 258.7h0M50.7 271.0h0M96.4 274.6h0M68.7 261.6h0M78.2 263.8h0M83.1 266.1h0M100.3 273.3h0M59.7 277.6h0M47.6 268.3h0M69.0 260.9h0M56.8 270.2h0M74.9 271.0h0M93.0 259.4h0M63.3 262.5h0M91.2 272.9h0M89.0 266.6h0M88.8 266.3h0M58.3 257.6h0M64.8 273.7h0M86.0 276.1h0M87.0 261.6h0M77.7 265.9h0M91.5 268.1h0M60.7 271.1h0M60.4 260.9h0M88.9 278.6h0M89.0 263.2h0M96.9 263.2h0M59.1 277.7h0M82.2 272.3h0M84.2 279.5h0M72.7 276.0h0M86.2 276.4h0M70.8 273.1h0M78.7 262.7h0M57.5 270.6h0M65.3 258.5h0M85.9 270.8h0M86.1 273.4h0M48.9 269.8h0M66.4 275.4h0M93.4 277.3h0M99.0 278.6h0M95.0 275.3h0M82.4 275.6h0M82.3 262.2h0M89.7 260.1h0M63.8 265.6h0M61.7 272.9h0M66.7 263.0h0M101.9 267.6h0M95.2 270.5h0M46.8 265.3h0M70.8 274.3h0M65.5 272.6h0M76.7 260.4h0M95.9 257.3h0M93.4 259.3h0M74.0 274.9h0M55.9 267.4h0M65.5 275.8h0M61.7 260.4h0M86.3 267.5h0M51.5 270.9h0M49.8 274.7h0M86.1 274.7h0M82.0 263.9h0M68.7 264.9h0M57.2 261.6h0M98.2 267.5h0M67.4 277.1h0M58.8 266.5h0M76.4 273.9h0M89.4 271.2h0M65.6 263.2h0M54.2 276.1h0M84.1 273.5h0M55.0 266.0h0M90.6 269.5h0M52.4 266.6h0M97.2 260.9h0M56.3 262.5h0M86.5 276.1h0M54.1 258.9h0M59.6 263.2h0M75.8 259.0h0M64.4 259.7h0M51.0 264.6h0M88.3 265.9h0M56.6 270.9h0M67.9 255.8h0M68.5 274.8h0M85.9 267.5h0M82.3 266.6h0M53.4 270.1h0M68.9 273.5h0M98.6 265.8h0M78.9 273.7h0M69.8 260.7h0M87.6 277.0h0M90.7 272.5h0M95.3 272.0h0M82.9 266.3h0M63.5 270.7h0M50.8 265.5h0M91.2 272.8h0M82.1 261.3h0M70.0 266.4h0M81.7 265.2h0M84.8 278.3h0M55.8 271.4h0M90.9 264.7h0M73.9 279.4h0M47.3 268.6h0M54.5 274.5h0M100.5 268.0h0M51.0 269.4h0M76.9 272.9h0M75.2 271.0h0M93.9 268.0h0M69.2 278.7h0M57.4 272.1h0M68.2 274.1h0M66.0 256.4h0M61.2 265.0h0M45.8 265.5h0M69.8 272.5h0M65.8 261.6h0M58.2 273.5h0M100.5 268.2h0M57.9 275.0h0M68.1 260.3h0M52.6 274.4h0M92.8 270.9h0M72.7 269.1h0M65.8 271.0h0M93.3 275.4h0M72.6 262.4h0M77.3 258.1h0M94.2 263.9h0M95.2 261.7h0M67.2 261.3h0M70.1 259.6h0M61.6 261.1h0M62.8 267.0h0M70.3 270.9h0M83.9 264.1h0M99.8 276.4h0M98.4 274.6h0M53.3 275.8h0M82.4 255.4h0M83.7 261.3h0M58.8 274.4h0M65.4 258.8h0M98.3 274.8h0M80.9 274.5h0M84.4 277.3h0M91.5 276.0h0M56.6 272.3h0M76.3 273.5h0M70.9 277.1h0M77.7 261.6h0M58.8 258.5h0M74.1 256.5h0M72.6 258.6h0M74.0 267.5h0M76.8 276.6h0M72.6 269.1h0M84.3 276.0h0M67.1 265.5h0M82.6 270.9h0M85.3 278.3h0M75.1 267.1h0M87.4 270.6h0M65.0 276.5h0M66.6 266.9h0M76.0 274.3h0M57.4 265.9h0M69.9 268.9h0M93.8 262.3h0M93.8 265.1h0M74.7 261.8h0M74.9 279.4h0M83.6 274.8h0M64.5 262.9h0M62.7 269.7h0M82.5 274.6h0M97.3 268.6h0M47.9 262.5h0M99.4 270.2h0M83.8 274.7h0M98.7 270.3h0M81.4 270.7h0M86.1 269.9h0M85.2 260.3h0M84.4 266.4h0M90.0 257.5h0M90.7 277.9h0M83.7 264.2h0M93.5 274.7h0M78.2 261.5h0M62.8 265.5h0M63.8 265.8h0M82.9 278.3h0M48.2 269.2h0M92.8 269.4h0M99.2 266.2h0M45.8 264.7h0M79.9 278.4h0M102.9 266.9h0M69.3 257.6h0M83.0 260.3h0" stroke="#f7a32a" stroke-width="1.6" stroke-linecap="round"/>
<path d="M44.3 266.9h0M44.6 266.2h0M44.2 274.3h0M44.5 265.0h0M42.4 272.5h0M39.0 275.2h0M34.8 275.6h0M35.9 272.8h0M33.0 274.3h0M37.1 270.9h0M38.5 272.1h0M32.6 273.6h0M37.0 271.7h0M42.4 269.0h0M37.5 273.4h0" stroke="#f7a32a" stroke-width="1.6" stroke-linecap="round"/>
<path d="M97.2 266.8h0M78.3 259.4h0M85.2 267.4h0M66.6 264.1h0M80.1 259.6h0M71.4 268.3h0M68.8 265.3h0M80.1 268.4h0M90.4 259.2h0M71.1 263.8h0M90.8 268.3h0M90.6 268.0h0M78.6 259.1h0M92.6 267.1h0M84.2 268.7h0M67.3 256.3h0M77.7 267.0h0M60.0 266.3h0M96.6 258.5h0M80.3 265.2h0M73.3 258.1h0M62.7 266.3h0M89.6 261.9h0M88.6 258.5h0M79.0 268.5h0M94.3 262.8h0M73.8 263.8h0M59.5 257.9h0M59.0 265.5h0M68.1 263.5h0M70.1 262.8h0M55.3 264.5h0M89.4 257.3h0M79.9 260.2h0M93.3 262.3h0M78.4 258.9h0M89.0 261.4h0M97.3 266.5h0M90.9 269.5h0M60.0 257.7h0M77.9 268.1h0M72.9 269.2h0M79.9 261.0h0M62.9 263.5h0M82.0 269.3h0M83.5 260.9h0M72.4 257.4h0M62.8 260.3h0M95.1 268.6h0M89.3 265.6h0M82.3 269.8h0M87.7 269.1h0M83.8 259.5h0M79.6 266.4h0M55.3 259.9h0M62.9 256.9h0M74.1 257.5h0M61.9 257.1h0M83.9 255.2h0M85.9 257.9h0M61.0 269.0h0M93.3 268.3h0M57.0 261.7h0M92.1 264.4h0M72.6 260.1h0M91.2 262.2h0M81.4 257.1h0M85.7 263.3h0M63.3 261.2h0M57.8 259.1h0M92.0 260.0h0M58.4 262.4h0M65.9 268.5h0M83.4 258.2h0M73.9 259.3h0M62.9 258.0h0M68.2 269.9h0M54.9 259.3h0M86.3 259.4h0M90.4 260.1h0M91.6 262.9h0M59.3 261.5h0M95.6 258.3h0M78.6 257.1h0M59.0 266.6h0M85.6 258.0h0M80.4 262.4h0M63.7 258.1h0M80.6 265.6h0M90.6 263.7h0M60.1 256.0h0M86.6 261.1h0M86.1 255.8h0M90.5 260.0h0M92.1 268.0h0M95.5 262.1h0M93.6 259.0h0M59.3 267.5h0M68.4 257.5h0M68.6 263.9h0M72.3 262.7h0M56.0 265.7h0M90.8 268.0h0M66.0 265.7h0M69.1 266.3h0M97.7 262.4h0M75.7 263.0h0M98.4 258.4h0M59.1 256.5h0M62.5 267.3h0M84.9 257.9h0M78.8 262.8h0M85.1 256.5h0M93.5 265.8h0M74.7 262.5h0M64.0 256.8h0M70.3 257.1h0M79.6 267.9h0M57.4 263.6h0M87.3 257.5h0M91.3 269.1h0M69.4 261.3h0M92.0 262.9h0M69.8 269.1h0M88.8 260.1h0M62.0 260.0h0M71.8 269.7h0M90.2 268.7h0M90.8 267.7h0M52.7 262.8h0M97.9 269.0h0M62.5 261.3h0M81.6 260.5h0M76.5 256.0h0M71.7 262.6h0M98.5 266.6h0M96.8 264.5h0M90.5 268.3h0M82.1 259.0h0M83.9 259.1h0M77.1 268.9h0M81.1 258.8h0M76.0 261.5h0M97.5 259.3h0M65.3 264.7h0M56.0 263.9h0M97.8 262.7h0M63.4 262.0h0M76.7 257.2h0M64.7 261.1h0M64.4 258.7h0M54.4 263.2h0M92.0 264.1h0M78.5 264.8h0M60.1 265.7h0M73.0 263.2h0M80.6 262.0h0M65.5 258.6h0M61.1 262.7h0M69.2 263.8h0M93.1 258.6h0M77.8 262.4h0M64.2 269.8h0M64.8 266.6h0M93.6 261.6h0M53.1 260.8h0M72.0 266.0h0M55.5 258.4h0M98.0 266.1h0M57.7 260.1h0M67.6 265.1h0M80.8 267.7h0M91.1 262.8h0M86.9 266.1h0M88.0 262.1h0M89.2 265.6h0M88.3 263.8h0M74.9 269.4h0M78.6 261.3h0M89.2 268.1h0M80.4 260.7h0M72.6 261.9h0M86.2 259.4h0M69.5 263.3h0M69.2 259.8h0M89.4 267.7h0M75.0 261.7h0M59.2 259.6h0M57.2 263.6h0M79.1 256.3h0M96.0 259.9h0M92.2 267.6h0M97.9 258.1h0M71.3 268.7h0M78.2 262.5h0M96.0 266.6h0M76.9 270.0h0M75.9 262.8h0M84.3 260.8h0M67.9 263.9h0M67.6 269.2h0M83.8 262.9h0M54.9 260.6h0M70.0 263.4h0M78.7 268.2h0M98.2 262.3h0M72.0 264.4h0M76.5 267.2h0M58.5 259.8h0M75.6 256.7h0M94.7 265.3h0M91.0 269.9h0M94.4 261.3h0M57.8 259.3h0M75.6 262.6h0M59.4 257.7h0M81.5 264.0h0M67.7 269.9h0M81.8 255.6h0M70.6 266.8h0M65.3 265.4h0M92.1 263.8h0M83.4 257.9h0M74.9 263.3h0M63.3 264.7h0M76.6 270.0h0M78.7 261.2h0M88.0 256.6h0M76.1 267.3h0M80.7 267.1h0M88.5 259.8h0M85.8 260.3h0M58.5 259.0h0M79.1 260.2h0M72.5 260.8h0M79.1 269.4h0M72.0 264.3h0M96.5 267.8h0M65.7 268.5h0M90.8 259.6h0M80.1 269.4h0M74.8 269.2h0M62.1 260.8h0M85.9 258.3h0M65.5 268.1h0M74.2 266.9h0M62.2 257.6h0M67.9 257.8h0M98.6 259.4h0M78.1 256.7h0M76.7 260.8h0M70.2 256.0h0M67.6 258.7h0M59.6 259.3h0M83.2 260.1h0M57.8 265.6h0M54.6 259.0h0M91.8 256.9h0M72.2 267.5h0M90.2 257.4h0M67.6 265.8h0M68.8 269.4h0M60.4 269.3h0M75.2 258.4h0M72.6 257.0h0M85.3 258.9h0M95.0 263.8h0M68.4 258.7h0M80.4 258.2h0M93.6 256.8h0M75.7 263.1h0M63.5 266.6h0M69.2 264.9h0M78.4 259.7h0M69.5 256.3h0M58.9 267.8h0M66.1 264.9h0M55.4 263.4h0M68.1 262.5h0M64.8 256.0h0M65.6 258.4h0M56.3 265.8h0M64.1 261.1h0M95.4 266.6h0M94.1 267.9h0M56.6 259.1h0M83.2 260.3h0M70.6 264.9h0M85.0 258.7h0M92.3 260.3h0M81.4 257.7h0M86.7 265.7h0M58.1 258.0h0M65.2 260.7h0M81.9 257.7h0M92.0 263.6h0M85.8 258.8h0M71.7 265.3h0M91.7 266.6h0M92.7 264.1h0" stroke="#f7a32a" stroke-width="1.6" stroke-linecap="round"/>
<path d="M89.6 263.6h0M91.8 276.2h0M95.1 279.0h0M111.6 267.1h0M113.4 277.1h0M97.6 260.1h0M120.2 267.8h0M113.1 277.1h0M109.4 268.4h0M102.6 269.8h0M111.9 276.5h0M96.9 270.6h0M106.5 263.7h0M90.0 266.2h0M102.0 262.6h0M98.6 261.1h0M112.0 273.4h0M96.1 263.6h0M105.5 268.2h0M119.8 266.1h0M98.2 278.3h0M92.8 271.0h0M99.3 276.8h0M106.6 275.5h0M93.8 273.3h0M108.4 268.6h0M114.0 277.1h0M91.9 264.7h0M100.3 262.7h0M90.1 264.5h0M94.7 274.1h0M103.2 260.6h0M99.0 268.8h0M100.3 261.9h0M90.9 274.5h0M91.7 269.2h0M102.8 262.4h0M119.3 272.8h0M109.3 279.5h0M110.2 263.8h0M96.4 261.2h0M116.5 264.8h0M94.3 272.7h0M93.7 276.0h0M116.2 275.1h0M99.1 262.2h0M116.1 265.4h0M100.5 270.7h0M100.6 277.1h0M107.3 272.4h0M115.9 274.2h0M104.8 269.5h0M93.4 264.9h0M103.1 280.3h0M102.9 262.4h0M116.6 277.7h0M114.8 267.8h0M97.6 273.2h0M105.5 267.7h0M99.5 268.1h0M110.6 277.0h0M98.1 268.2h0M107.2 266.0h0M99.0 268.6h0M111.0 272.0h0M98.1 271.1h0M110.0 264.9h0M99.7 278.4h0M111.1 268.3h0M90.9 273.2h0M100.6 271.4h0M102.2 270.2h0M107.2 267.1h0M91.9 262.2h0M118.3 270.6h0M91.8 277.8h0M96.6 260.2h0M106.0 263.8h0M104.6 270.7h0M95.7 271.2h0M91.8 269.8h0M101.9 259.7h0M102.9 277.9h0M106.7 274.4h0M91.5 277.1h0M101.3 261.9h0M96.1 266.6h0M95.2 264.9h0M112.1 267.8h0M118.2 272.3h0M117.7 270.9h0M93.7 275.1h0M99.6 275.6h0M111.1 277.0h0M92.2 266.6h0M106.7 276.5h0M91.8 279.3h0M111.0 263.9h0M94.6 268.3h0M116.5 271.4h0M91.8 276.4h0M94.3 270.7h0M97.9 273.8h0M100.9 261.3h0M117.8 270.4h0M111.4 276.6h0M99.6 261.5h0M105.1 278.1h0M94.2 276.8h0M111.1 267.0h0M104.2 261.6h0M116.7 267.0h0M117.7 272.0h0M90.6 265.6h0M95.4 278.6h0M93.8 266.3h0M103.9 271.3h0M101.2 266.1h0M99.3 258.5h0M103.6 280.7h0M110.8 264.3h0M97.3 269.5h0M96.9 271.1h0M106.0 280.0h0M107.1 275.7h0M117.7 275.8h0M109.5 272.6h0M100.3 264.5h0M115.0 278.1h0M98.3 275.6h0M113.1 269.7h0M109.6 266.1h0M106.7 267.3h0M90.1 265.8h0M104.4 266.4h0M96.3 263.4h0M99.9 261.1h0M103.4 268.2h0M107.3 265.0h0M98.3 265.1h0M112.7 270.7h0M119.9 265.8h0M119.3 271.4h0M100.1 275.8h0M102.6 278.0h0M90.3 269.1h0M118.6 264.3h0M93.6 264.2h0M111.9 263.0h0M101.6 262.6h0M108.5 277.9h0M110.0 262.5h0M115.5 278.1h0M99.6 261.1h0M94.4 270.3h0M117.8 272.7h0M119.4 262.9h0M99.1 275.2h0M110.1 267.3h0M111.1 265.8h0M90.0 267.5h0M99.4 269.4h0M108.3 263.9h0M119.5 271.0h0M108.9 274.7h0M99.2 260.1h0M115.7 267.7h0M106.3 271.5h0M106.9 273.1h0M108.5 265.6h0" stroke="#4aa872" stroke-width="1.5" stroke-linecap="round"/>
<path d="M109.3 262.1h0M108.8 270.2h0M110.0 262.9h0M109.9 273.6h0M104.2 262.5h0M105.4 273.1h0M104.6 268.5h0M109.9 263.8h0M106.0 260.9h0M112.9 263.8h0M109.3 272.7h0M110.0 261.9h0M107.5 263.5h0M110.4 265.4h0M101.8 272.5h0M97.9 269.7h0M97.2 268.3h0M103.2 271.8h0M103.4 272.7h0M100.0 262.0h0M100.7 264.9h0M100.2 261.3h0M109.7 268.3h0M99.9 267.1h0M98.8 271.8h0M111.6 262.3h0M109.5 271.2h0M101.1 263.3h0M104.7 272.3h0M98.9 268.9h0M106.8 265.2h0M106.4 272.1h0M99.8 272.1h0M102.5 270.5h0M98.7 269.8h0M102.1 272.7h0M108.9 272.1h0M100.2 270.7h0M105.1 261.7h0M103.7 259.7h0M101.7 272.1h0M98.2 265.8h0M98.4 264.9h0M99.2 269.0h0M98.7 269.8h0M105.0 259.8h0M102.4 265.9h0M112.5 263.6h0M100.9 260.8h0M100.8 259.1h0M103.3 266.9h0M108.4 268.4h0M105.8 266.8h0M108.4 273.7h0M103.2 263.1h0M103.0 264.2h0M103.4 260.3h0M106.9 272.8h0M100.6 267.8h0M102.8 261.9h0M99.6 259.9h0M111.2 270.5h0M108.5 263.2h0M107.6 266.8h0M111.4 266.2h0M100.2 268.1h0M109.4 264.1h0M108.8 264.3h0M105.5 267.8h0M108.2 263.2h0M107.3 266.7h0M100.0 267.8h0M100.8 272.5h0M104.5 269.5h0M105.4 265.6h0M100.0 260.3h0M112.7 266.5h0M105.4 266.4h0M110.6 261.8h0M99.1 271.2h0" stroke="#999999" stroke-width="1.6" stroke-linecap="round"/>
<path d="M109.5 267.0h0M108.6 269.6h0M113.8 259.7h0M113.6 265.3h0M109.4 259.2h0M108.7 272.0h0M112.3 264.3h0M109.7 269.2h0M113.1 260.1h0M112.2 263.1h0M110.2 261.3h0M108.4 262.8h0M108.6 258.2h0M106.4 266.0h0M112.6 261.8h0M107.9 261.4h0M111.6 270.0h0M106.4 263.9h0M113.5 266.7h0M108.5 258.6h0M109.3 263.1h0M112.6 262.1h0M108.9 267.1h0M113.7 262.9h0M108.6 266.1h0M115.1 260.7h0M108.5 267.3h0M108.0 259.0h0M113.1 263.3h0M110.3 265.0h0M109.6 264.5h0M114.1 263.8h0M109.7 270.5h0M109.3 264.9h0M110.1 269.5h0M112.0 268.4h0M108.8 258.6h0M112.2 265.8h0M104.9 269.4h0M113.0 265.9h0M112.5 264.8h0M109.0 266.2h0M114.5 260.0h0M108.0 265.3h0M104.1 271.8h0M107.3 261.7h0M107.8 261.6h0M110.1 263.9h0M114.3 261.6h0M110.4 263.2h0" stroke="#1f8a4c" stroke-width="1.5" stroke-linecap="round"/>
<path d="M115.7 216.1h0M123.4 211.8h0M120.1 213.3h0M122.2 210.3h0M137.4 219.7h0M137.2 216.4h0M129.1 222.6h0M104.9 206.4h0M92.5 202.3h0M136.2 232.3h0M104.8 207.1h0M123.3 210.2h0M137.2 233.3h0M132.6 214.0h0M145.1 233.9h0M104.6 211.2h0M134.0 216.4h0M124.3 217.9h0M91.7 203.9h0M124.3 232.9h0M107.3 214.7h0M105.1 201.4h0M121.3 226.6h0M124.1 215.1h0M108.6 212.1h0M95.5 202.3h0M117.8 217.8h0M118.4 211.8h0M99.0 203.4h0M122.5 223.1h0M119.2 209.2h0M124.1 226.4h0M125.6 223.2h0M108.0 203.9h0M98.7 206.7h0M116.7 216.4h0M135.9 230.8h0M134.1 221.3h0M140.1 226.5h0M108.3 204.7h0M147.8 222.5h0M139.0 231.8h0M143.9 225.1h0M139.3 227.1h0M123.8 214.2h0M138.8 226.5h0M148.0 226.6h0M100.9 205.9h0M115.3 207.3h0M129.9 223.9h0M136.8 222.9h0M146.3 227.9h0M127.8 228.3h0M139.5 226.8h0M124.7 215.0h0M107.5 206.5h0M130.9 214.5h0M128.3 227.2h0M125.1 230.3h0M111.2 216.5h0M143.2 222.3h0M126.4 212.2h0M119.4 222.7h0M129.7 218.5h0M143.0 224.5h0M106.8 203.8h0M147.0 230.2h0M120.8 213.7h0M137.5 222.7h0M131.4 223.2h0" stroke="#8fcfa8" stroke-width="1.5" stroke-linecap="round"/>
<path d="M110.0 211.4h0M120.7 229.3h0M110.7 217.3h0M111.6 218.8h0M114.2 217.4h0M122.9 228.0h0M120.1 225.1h0M109.6 213.6h0M127.1 225.3h0M122.8 225.7h0M133.9 227.0h0M112.3 217.6h0M119.1 221.1h0M124.1 231.3h0M124.0 222.6h0M114.5 222.5h0M128.4 229.6h0M126.7 229.2h0M123.4 230.7h0M125.3 223.5h0M121.7 229.3h0M109.8 212.8h0M124.3 233.3h0M120.0 228.8h0M122.7 226.6h0M121.1 217.8h0M118.4 222.9h0M112.3 212.1h0M114.5 214.6h0M118.6 218.8h0M107.1 214.2h0M120.2 225.9h0M126.0 226.4h0M126.0 224.0h0M109.5 216.6h0M103.7 209.9h0M132.8 228.5h0M104.6 209.9h0M120.3 220.7h0M107.5 213.8h0M125.6 232.5h0M129.2 229.7h0M129.9 228.2h0M122.5 230.9h0M117.4 224.3h0M107.4 213.6h0M104.5 212.4h0M116.4 222.8h0M122.9 226.1h0M116.9 217.8h0M124.2 226.3h0M124.9 219.7h0M128.4 229.2h0M122.8 227.0h0M101.4 208.3h0M118.1 223.7h0M121.4 228.6h0M102.8 208.5h0M129.9 228.9h0M126.3 229.9h0" stroke="#6fbd90" stroke-width="1.5" stroke-linecap="round"/>
<path d="M98.4 186.9h0M86.8 190.8h0M96.3 187.8h0M96.5 185.1h0M79.8 187.2h0M94.6 196.4h0M90.5 193.7h0M87.8 196.6h0M93.6 202.4h0M95.6 200.1h0M95.2 185.6h0M94.3 201.1h0M88.3 201.7h0M88.6 198.4h0M84.1 190.7h0M86.4 191.2h0M80.3 193.4h0M101.5 197.4h0M100.4 199.5h0M96.1 190.2h0M84.0 192.8h0M85.9 199.6h0M97.1 195.1h0M85.5 196.9h0M86.8 195.2h0M90.7 197.3h0M90.9 202.8h0M87.8 202.4h0M80.2 189.0h0M82.2 193.3h0" stroke="#f7a32a" stroke-width="1.6" stroke-linecap="round"/>
<polygon points="29.6,271.2 79.4,201.0 83.0,198.5 88.0,199.0 90.0,205.9 92.7,207.0 94.0,214.0 92.0,222.0 88.0,230.0 84.0,238.0 76.0,244.0 69.0,247.5 65.8,251.7 58.8,255.9 51.9,259.4 44.9,262.2 37.9,265.6 30.5,272.5" fill="#f7a32a"/>
<polygon points="94.0,214.0 95.0,230.0 97.0,245.0 100.0,258.0 90.0,262.0 75.0,260.0 62.0,256.0 65.8,251.7 69.0,247.5 76.0,244.0 84.0,238.0 88.0,230.0 92.0,222.0" fill="#e3a455"/>
<path d="M88.1 247.2h0M90.3 250.2h0M84.5 245.5h0M84.7 247.4h0M72.4 250.9h0M88.2 235.4h0M93.5 224.9h0M94.5 252.5h0M87.1 242.2h0M86.8 241.3h0M75.8 248.7h0M67.3 251.8h0M71.4 252.2h0M91.1 224.8h0M86.4 236.6h0M87.2 254.1h0M79.5 248.2h0M90.3 241.0h0M86.8 238.7h0M90.1 239.8h0M85.0 245.3h0M67.5 252.6h0M97.9 249.5h0M94.6 231.7h0M69.3 249.9h0M84.2 259.1h0M77.3 246.6h0M81.4 259.5h0M93.7 223.7h0M75.0 246.1h0M68.2 253.7h0M83.4 248.2h0M81.8 241.9h0M77.5 256.6h0M87.1 255.3h0M98.7 255.8h0M94.3 252.7h0M86.8 238.6h0M87.0 242.1h0M92.4 257.1h0M81.9 246.5h0M85.7 236.6h0M87.5 252.4h0M87.8 248.0h0M98.4 251.7h0M77.5 260.2h0M89.9 231.3h0M87.2 250.8h0M75.5 247.8h0M91.1 254.1h0M86.4 244.5h0M88.8 260.4h0M69.5 250.8h0M93.2 242.9h0M94.3 256.0h0M89.6 227.1h0M72.1 248.1h0M85.7 247.4h0M72.0 252.0h0M89.7 230.4h0M88.3 232.5h0M92.3 252.5h0M69.3 248.0h0M92.6 252.0h0M87.2 241.1h0M82.3 248.8h0M86.3 247.2h0M85.4 257.3h0M91.3 253.7h0M89.2 260.0h0M92.2 228.9h0M74.0 248.6h0M97.4 256.1h0M89.2 239.4h0M89.1 251.0h0M97.2 258.8h0M79.3 244.6h0M99.3 257.7h0M91.3 235.0h0M93.7 222.1h0M68.6 250.7h0M71.9 249.6h0M95.9 257.4h0M80.0 259.9h0M79.7 248.4h0M66.1 253.0h0M94.5 229.4h0M68.6 249.7h0M77.9 253.4h0M94.8 241.6h0" stroke="#999999" stroke-width="1.5" stroke-linecap="round"/>
<path d="M85.0 257.2h0M94.2 253.3h0M70.6 257.7h0M77.6 244.5h0M95.7 250.3h0M71.3 258.1h0M89.7 250.2h0M92.9 226.2h0M86.9 232.3h0M93.9 220.4h0M93.2 230.6h0M94.1 254.7h0M97.7 249.7h0M87.7 245.3h0M63.8 255.8h0M74.9 251.6h0M91.7 255.8h0M92.3 224.9h0M92.5 259.8h0M96.2 249.2h0M73.8 255.9h0M84.3 253.8h0M77.8 256.3h0M78.4 248.4h0M81.9 253.4h0M92.0 231.1h0M70.4 249.8h0M92.5 224.5h0M89.0 258.6h0M74.5 249.1h0M81.0 246.1h0M92.2 222.8h0M90.9 255.7h0M75.7 258.4h0M81.1 257.1h0M81.4 258.8h0M86.0 252.6h0M78.1 242.9h0M89.2 249.9h0M84.9 257.4h0M89.4 250.0h0M89.1 248.1h0M72.4 254.2h0M92.3 246.5h0M74.8 250.8h0M80.5 259.4h0M88.7 260.4h0M88.2 232.8h0M67.8 255.5h0M94.3 249.0h0M83.1 245.8h0M89.9 259.6h0M94.4 252.0h0M84.4 246.5h0M74.9 259.4h0M96.1 252.4h0M75.8 257.0h0M91.9 226.5h0M75.8 257.8h0M74.6 253.4h0M89.9 248.6h0M82.9 258.3h0M90.4 255.2h0M95.2 250.2h0M84.7 260.9h0M88.9 244.2h0M87.6 260.5h0M75.3 249.4h0M78.7 252.0h0M95.5 242.8h0M97.8 255.3h0M76.6 247.2h0M91.9 238.7h0M77.7 246.1h0M83.7 249.0h0M77.5 260.1h0M98.3 258.6h0M96.3 252.0h0M91.9 253.4h0M74.1 250.4h0M68.0 255.2h0M97.3 250.3h0M67.7 250.5h0M83.8 257.5h0M95.1 235.2h0M89.8 245.1h0M76.1 258.2h0M92.7 250.4h0M79.3 255.5h0M77.2 259.6h0M71.5 253.1h0M65.3 254.9h0M89.3 249.0h0M75.0 258.8h0M93.0 219.8h0M91.9 226.0h0M96.4 243.4h0M86.0 239.6h0M94.5 235.3h0M92.6 246.7h0M79.6 253.5h0M98.6 258.3h0M83.1 250.6h0M85.9 241.0h0M75.8 259.6h0M86.1 240.1h0M94.8 246.2h0M93.8 246.1h0M88.0 258.5h0M77.8 257.3h0M84.4 253.6h0M68.8 253.9h0M72.2 256.3h0M75.8 245.8h0M89.6 240.5h0M75.6 257.2h0M84.4 252.4h0M83.8 240.9h0M90.8 225.6h0M93.3 225.6h0M91.1 224.7h0M87.5 254.1h0M81.5 259.0h0M96.6 247.9h0M94.2 245.1h0M90.2 248.4h0M87.4 234.8h0M88.1 261.7h0M77.2 247.0h0M87.5 237.8h0M92.7 228.0h0M97.5 253.1h0M88.1 247.5h0M84.0 260.9h0M84.2 248.7h0M75.2 247.4h0M75.9 248.2h0M94.9 244.6h0M67.9 255.9h0M76.5 246.2h0M75.4 256.0h0M96.5 251.7h0M94.9 242.2h0M91.3 247.8h0M91.7 238.8h0M71.5 258.4h0M88.9 253.3h0M80.3 249.1h0M75.7 250.2h0M70.9 251.7h0M86.9 246.5h0M86.1 247.3h0M87.5 260.4h0M92.6 225.0h0M92.2 249.4h0M89.1 257.0h0M94.3 255.6h0M72.7 258.3h0M94.4 229.9h0M94.4 256.8h0M91.4 232.0h0M66.5 257.3h0M76.1 250.5h0M74.7 246.6h0M69.6 255.1h0M84.3 241.6h0M74.4 244.9h0M84.9 238.5h0M75.8 257.3h0M71.1 255.1h0M92.3 252.9h0M72.2 251.3h0M91.6 254.4h0M71.9 250.1h0M88.7 238.8h0M76.1 255.3h0M70.0 256.1h0M85.4 241.0h0M74.5 254.6h0M87.2 245.9h0M70.8 251.9h0M79.4 253.9h0M76.2 249.2h0M87.7 237.9h0M80.4 243.6h0M87.8 240.2h0M85.4 251.4h0M78.8 253.8h0M83.5 250.1h0M98.9 253.5h0M89.7 226.8h0M94.1 222.5h0M93.5 239.0h0M78.7 253.8h0M88.2 239.6h0M72.6 258.2h0M96.4 255.8h0M92.2 227.5h0M97.2 252.9h0M83.0 243.4h0" stroke="#f7a32a" stroke-width="1.5" stroke-linecap="round"/>
<path d="M88.6 236.3h0M91.9 235.9h0M72.7 249.8h0M93.6 225.9h0M88.4 233.0h0M90.3 256.0h0M75.2 249.1h0M87.0 233.5h0M81.3 251.8h0M69.5 248.7h0M75.4 253.0h0M86.2 237.2h0M71.6 253.9h0M83.0 242.9h0M91.5 228.0h0M94.8 251.7h0M87.8 253.1h0M78.6 246.3h0M70.4 255.6h0M81.1 254.2h0M91.2 241.4h0M91.7 228.7h0M83.8 245.1h0M82.9 249.2h0M65.8 254.3h0M76.1 251.8h0M88.5 251.5h0M77.6 258.7h0M78.6 250.9h0M93.6 236.8h0M87.1 240.9h0M79.5 241.6h0M76.0 256.3h0M85.8 244.3h0M94.0 236.6h0M89.1 249.0h0M87.0 245.6h0M92.0 228.7h0M82.7 252.8h0M86.6 254.0h0M76.9 250.3h0M78.7 250.6h0M97.7 257.1h0M78.9 257.9h0M73.5 248.4h0M93.2 234.0h0M93.9 216.3h0M84.7 255.4h0M88.4 242.2h0M89.4 227.3h0M65.3 252.5h0M81.1 248.5h0M99.3 256.8h0M71.8 253.1h0M92.8 240.8h0M65.0 255.4h0M79.6 248.3h0M86.7 247.0h0M88.5 249.5h0M86.7 233.3h0" stroke="#999999" stroke-width="1.5" stroke-linecap="round"/>
<path d="M83.6 238.7h0M93.9 225.6h0M90.2 248.3h0M97.7 254.0h0M91.9 236.8h0M92.4 254.5h0M94.1 246.1h0M70.5 254.7h0M74.5 254.7h0M84.1 238.2h0M99.6 256.6h0M66.7 254.7h0M92.8 247.4h0M82.9 253.0h0M69.3 248.0h0M83.8 251.4h0M85.9 242.8h0M97.0 253.0h0M88.8 258.7h0M86.5 245.8h0M97.6 251.3h0M90.9 229.2h0M92.7 225.9h0M88.0 256.8h0M78.9 252.1h0" stroke="#4aa872" stroke-width="1.4" stroke-linecap="round"/>
<path d="M87.6 201.7h0M89.4 205.9h0M82.9 203.0h0M85.9 204.0h0M87.7 205.1h0M83.9 206.1h0M84.0 200.1h0M81.1 200.6h0M90.0 205.9h0M87.0 200.1h0M84.6 202.6h0M87.4 200.7h0M86.5 203.8h0M85.9 204.0h0M89.6 206.0h0M89.1 200.5h0M90.5 206.7h0M89.9 209.0h0M83.0 205.8h0M84.5 203.0h0M89.1 206.2h0M84.0 205.4h0M91.0 205.7h0M85.5 205.5h0M87.5 204.8h0" stroke="#fbd59a" stroke-width="1.2" stroke-linecap="round"/>
<polygon points="92.7,207.0 102.0,207.0 112.0,219.0 118.0,230.0 121.5,234.5 117.0,243.0 112.5,253.0 111.5,259.0 108.0,264.0 102.0,266.0 100.0,260.0 99.0,256.0 97.0,245.0 95.0,230.0 94.0,214.0" fill="#999999"/>
<path d="M105.4 237.5h0M105.7 249.2h0M98.3 230.8h0M98.1 245.0h0M103.5 240.6h0M99.9 239.8h0M111.2 248.3h0M103.3 231.0h0M100.2 249.3h0M97.1 238.6h0M102.9 255.2h0M101.1 238.1h0M99.9 220.9h0M96.4 227.4h0M106.6 239.5h0M108.8 250.1h0M107.8 248.0h0M105.4 250.6h0M99.6 244.1h0M106.3 251.3h0M104.2 226.1h0M98.5 237.9h0M106.6 243.6h0M95.8 226.4h0M107.9 234.5h0M95.9 229.4h0M95.5 224.9h0M105.9 252.4h0M101.4 233.8h0M98.4 248.7h0M106.9 248.5h0M103.6 244.8h0M96.3 230.9h0M99.3 226.4h0M99.9 226.4h0M109.6 242.1h0M102.7 230.7h0M102.1 238.9h0M98.7 218.5h0M103.0 247.8h0M96.8 233.0h0M111.8 235.2h0M100.9 250.9h0M105.9 227.5h0M103.3 226.7h0M102.0 234.6h0M110.7 235.0h0M110.6 242.2h0M109.7 232.2h0M109.3 250.1h0M100.7 250.5h0M97.8 247.1h0M102.4 232.1h0M100.8 232.2h0M104.4 253.2h0M111.0 241.9h0M104.5 233.7h0M100.3 232.4h0M104.6 237.9h0M101.7 225.0h0M99.7 235.7h0M102.0 257.1h0M104.1 223.1h0M95.0 221.0h0M100.2 248.4h0M108.0 233.4h0M103.7 237.4h0M94.8 216.9h0M106.0 244.3h0M100.8 254.4h0M105.3 226.3h0M102.0 224.2h0M97.3 222.0h0M108.7 233.9h0M106.9 229.3h0M108.5 240.2h0M105.8 231.3h0M104.1 222.4h0M111.5 243.6h0M103.6 242.1h0M95.8 228.7h0M98.2 251.1h0M109.6 248.4h0M106.9 227.3h0M98.2 245.0h0M99.4 245.8h0M100.3 247.5h0M104.3 249.9h0M103.8 231.1h0M107.9 227.9h0M97.7 248.5h0M103.9 247.2h0M98.7 243.3h0M107.8 242.0h0M102.0 246.2h0M103.6 240.3h0M99.6 229.1h0M95.7 229.3h0M107.1 239.4h0M96.7 218.2h0M98.5 236.7h0M98.9 252.9h0M107.5 244.6h0M104.1 225.2h0M99.8 222.7h0M101.7 253.5h0M97.8 219.1h0M97.2 225.0h0M104.4 233.6h0M99.5 237.1h0M107.9 245.9h0M100.2 254.4h0M108.2 238.7h0M102.6 228.5h0M98.3 237.6h0M103.0 243.3h0M97.5 241.6h0M97.4 245.3h0M96.1 220.6h0M103.5 221.7h0M105.2 251.9h0M96.3 223.6h0M107.8 234.7h0M101.2 256.1h0M103.8 255.4h0M107.9 247.0h0M108.1 245.8h0M99.7 244.1h0M101.4 247.0h0M100.9 249.3h0M102.5 249.7h0M99.4 238.0h0M106.2 232.7h0M106.7 246.0h0M110.6 233.3h0M104.7 249.8h0M94.7 220.0h0M111.9 246.5h0M97.8 220.4h0M110.2 243.3h0M101.4 255.6h0M109.1 246.2h0M102.9 235.6h0M96.6 236.5h0M109.8 232.5h0M98.8 224.5h0M102.3 242.5h0M104.3 253.2h0M103.2 236.6h0M99.6 219.5h0M110.6 235.3h0M109.8 244.7h0M107.1 247.4h0M99.4 246.1h0M97.7 238.4h0M104.7 248.1h0M97.0 229.1h0M108.8 249.4h0M97.8 218.7h0M107.0 246.8h0M105.7 248.3h0M103.3 238.7h0M110.6 242.5h0M105.8 239.9h0M102.9 247.3h0M101.7 232.5h0M101.8 238.7h0M100.5 231.2h0M101.7 230.3h0M101.1 233.8h0M104.7 230.1h0M99.1 234.5h0M98.3 225.2h0M106.6 249.1h0M102.5 231.0h0M98.2 249.1h0M111.7 245.5h0M106.0 234.8h0M104.6 232.5h0M98.1 229.1h0M104.3 228.3h0M101.9 249.8h0M97.3 245.7h0M100.0 255.6h0M101.4 241.4h0M105.5 229.1h0M94.6 219.5h0M99.5 241.2h0M110.2 236.7h0M98.6 239.8h0M99.0 248.4h0M96.8 225.5h0M101.9 254.0h0M97.0 222.5h0M96.4 223.4h0M100.0 231.4h0M107.7 231.8h0M102.6 231.4h0M101.7 254.5h0M103.5 244.0h0M100.9 225.9h0M100.5 244.7h0M102.3 237.2h0M97.7 221.8h0M100.1 244.0h0M106.8 233.1h0M95.2 225.4h0M103.9 228.4h0M98.5 226.8h0M99.0 229.2h0" stroke="#f7a32a" stroke-width="1.5" stroke-linecap="round"/>
<path d="M112.7 225.1h0M110.4 227.4h0M103.6 212.6h0M101.3 208.1h0M109.0 222.7h0M99.8 213.3h0M101.6 211.3h0M99.0 210.8h0M108.6 222.1h0M97.1 212.6h0M105.7 218.0h0M106.7 223.7h0M110.1 225.3h0M103.0 210.6h0M96.1 210.8h0M102.9 209.9h0M102.4 219.7h0M106.7 216.3h0M114.6 228.2h0M112.1 219.3h0M112.6 220.2h0M100.8 216.4h0M110.6 225.3h0M112.8 227.3h0M100.7 210.3h0M112.0 222.9h0M102.1 214.9h0M101.3 214.4h0M114.5 224.5h0M106.7 215.3h0M106.7 219.4h0M103.1 219.8h0M95.3 210.2h0M109.7 221.7h0M113.1 222.9h0M102.8 218.0h0M112.5 222.6h0M110.0 217.4h0M110.8 218.3h0M100.8 213.0h0M115.7 226.3h0M106.8 217.2h0M98.3 207.5h0M99.6 208.3h0M106.1 213.9h0" stroke="#4aa872" stroke-width="1.5" stroke-linecap="round"/>
<path d="M101.7 215.4h0M100.6 211.5h0M102.5 217.3h0M102.2 214.1h0M98.9 211.3h0M100.9 209.8h0M104.1 220.2h0M104.1 219.2h0M99.2 209.6h0M97.1 211.6h0M100.2 212.4h0M102.0 212.2h0M94.6 208.2h0M99.8 211.1h0M102.4 217.0h0M100.3 209.2h0M100.6 213.4h0M104.2 220.2h0M102.7 216.0h0M98.4 210.6h0M95.5 208.1h0M96.9 214.1h0M102.0 211.9h0M101.6 212.6h0M102.8 214.1h0M100.8 213.3h0M97.1 210.3h0M101.1 218.1h0M95.4 212.2h0M96.8 214.1h0M102.6 216.5h0M105.1 217.0h0M101.1 210.0h0M100.9 215.1h0M103.1 212.9h0M99.7 213.3h0M102.5 217.5h0M94.6 207.5h0M103.8 217.1h0M101.1 211.7h0M97.2 212.2h0M104.7 219.2h0M103.5 218.8h0M103.9 219.4h0M99.6 210.5h0M103.0 219.0h0M103.0 220.9h0M97.0 212.1h0M98.5 208.9h0M102.0 214.8h0" stroke="#f7a32a" stroke-width="1.5" stroke-linecap="round"/>
<path d="M109.0 228.4h0M112.8 226.0h0M108.9 225.9h0M104.9 219.4h0M112.8 226.6h0M108.7 221.8h0M106.1 221.7h0M107.6 225.6h0M110.9 226.9h0M111.0 229.0h0M105.5 219.6h0M107.1 223.4h0M107.1 221.4h0M107.9 223.8h0M108.3 222.5h0M112.9 224.9h0M110.0 225.9h0M111.4 227.4h0M111.5 226.7h0M114.4 230.7h0M106.1 222.8h0M113.8 229.7h0M105.6 221.9h0M111.7 226.9h0M106.9 220.1h0M111.1 225.4h0M110.8 226.4h0M110.4 222.8h0M109.1 225.6h0M113.2 225.5h0" stroke="#1f8a4c" stroke-width="1.5" stroke-linecap="round"/>
<path d="M120.4 238.2h0M118.7 235.7h0M114.7 240.1h0M114.6 239.2h0M117.7 235.5h0M120.3 239.4h0M119.8 236.4h0M123.0 235.8h0M117.5 236.9h0M114.0 235.7h0M116.1 236.5h0M118.2 235.0h0M115.3 234.5h0M115.7 239.6h0M117.8 240.3h0M114.4 234.8h0M116.7 235.0h0M123.3 235.7h0M118.7 242.4h0M119.5 237.7h0M121.7 234.3h0M118.3 237.5h0M116.4 238.3h0M116.3 233.6h0M115.2 236.3h0M121.2 239.2h0M121.5 236.1h0M122.4 236.2h0M115.0 231.9h0M118.7 241.1h0" stroke="#4aa872" stroke-width="1.4" stroke-linecap="round"/>
<polygon points="121.5,234.5 137.6,234.5 137.3,236.6 121.5,257.5 116.5,260.0 111.5,259.0 112.5,253.0 117.0,243.0" fill="#1f8a4c"/>
<path d="M118.2 229.4h0M127.1 225.2h0M134.3 229.7h0M131.1 233.6h0M118.6 226.7h0M117.8 229.7h0M130.3 229.2h0M127.2 225.6h0M134.1 230.0h0M122.7 233.3h0M124.9 229.0h0M121.2 232.3h0M128.2 234.8h0M138.9 229.0h0M128.5 232.8h0M119.2 227.1h0M131.1 225.1h0M135.0 228.7h0M115.3 225.0h0M141.2 228.0h0M128.4 230.0h0M126.5 227.7h0M137.3 231.7h0M117.4 225.2h0M131.8 234.8h0M135.3 229.3h0M117.3 226.4h0M131.5 233.6h0M114.3 224.1h0M139.1 230.3h0M131.0 230.9h0M135.6 229.8h0M117.2 226.5h0M117.0 226.8h0M136.3 230.1h0M124.0 234.8h0M130.3 226.7h0M129.8 233.6h0M124.3 228.9h0M130.2 235.1h0M131.9 226.0h0M130.3 227.6h0M127.3 232.0h0M122.8 230.7h0M137.0 229.2h0" stroke="#1f8a4c" stroke-width="1.5" stroke-linecap="round"/>
<path d="M132.2 225.8h0M120.2 228.7h0M129.0 224.9h0M136.5 228.6h0M123.4 225.3h0M138.8 233.9h0M133.7 226.4h0M126.1 231.0h0M117.1 226.8h0M137.2 231.0h0M130.7 223.4h0M118.9 225.4h0M130.3 234.2h0M129.7 234.1h0M127.0 228.8h0M121.0 228.1h0M142.0 228.4h0M118.3 230.2h0M128.3 228.3h0M114.8 222.4h0M134.4 229.9h0M132.9 228.6h0M138.7 229.9h0M113.4 223.6h0M141.0 229.2h0M132.7 232.7h0M137.9 226.5h0M130.4 224.4h0M122.6 224.0h0M126.8 222.6h0M133.0 230.5h0M141.0 232.1h0M129.4 234.4h0M127.7 223.1h0M134.5 224.3h0M140.9 228.5h0M122.4 230.7h0M134.7 228.1h0M120.8 227.5h0M134.9 225.0h0" stroke="#4aa872" stroke-width="1.5" stroke-linecap="round"/>
<path d="M104.5 261.8h0M106.3 267.7h0M106.3 265.3h0M106.9 257.0h0M109.8 266.4h0M113.3 263.5h0M109.7 264.0h0M110.3 258.2h0M113.1 257.5h0M107.0 266.2h0M111.1 262.1h0M113.4 261.9h0M108.1 262.6h0M102.6 267.9h0M104.5 266.3h0M106.5 265.7h0M112.4 263.3h0M113.9 259.2h0M115.3 262.5h0M114.1 266.1h0M106.1 260.9h0M107.8 256.9h0M109.8 262.5h0M107.7 264.2h0M110.6 262.0h0M106.1 258.7h0M112.7 260.1h0M110.2 257.3h0M107.7 256.9h0M110.0 267.5h0M114.2 260.4h0M106.4 267.2h0M102.8 266.1h0M108.2 261.1h0M111.7 262.3h0" stroke="#1f8a4c" stroke-width="1.5" stroke-linecap="round"/>
</g>
<text transform="translate(67.00,222.20) scale(1,1.12)" font-size="4.4" text-anchor="start" fill="#262626" stroke="#262626" stroke-width="0.06">G512R</text>
<text transform="translate(61.00,229.60) scale(1,1.12)" font-size="4.4" text-anchor="start" fill="#262626" stroke="#262626" stroke-width="0.06">R729W</text>
<text transform="translate(42.50,253.80) scale(1,1.12)" font-size="4.4" text-anchor="start" fill="#262626" stroke="#262626" stroke-width="0.06">L769R</text>
<text transform="translate(101.00,230.40) scale(1,1.12)" font-size="4.4" text-anchor="start" fill="#262626" stroke="#262626" stroke-width="0.06">Y714F</text>
<rect x="120.9" y="186" width="32.1" height="18.7" rx="1" fill="#EAEAF2" fill-opacity="0.8" stroke="#ccc" stroke-width="0.3"/>
<circle cx="124.6" cy="189.8" r="0.9" fill="#3fa06a"/>
<text transform="translate(131.50,191.30) scale(1,1.12)" font-size="4.3" text-anchor="start" fill="#333333" >benign</text>
<circle cx="124.6" cy="196.0" r="0.9" fill="#999999"/>
<text transform="translate(131.50,197.50) scale(1,1.12)" font-size="4.3" text-anchor="start" fill="#333333" >ambiguous</text>
<circle cx="124.6" cy="202.2" r="0.9" fill="#f7a32a"/>
<text transform="translate(131.50,203.70) scale(1,1.12)" font-size="4.3" text-anchor="start" fill="#333333" >pathogenic</text>
<clipPath id="cpC"><rect x="190.6" y="186.7" width="131.4" height="99.5"/></clipPath><g clip-path="url(#cpC)">
<path d="M238.6 238.3h0M219.2 255.2h0M223.4 239.8h0M217.1 250.7h0M244.7 263.8h0M210.4 262.5h0M228.4 252.9h0M216.9 251.3h0M200.3 247.9h0M232.1 268.1h0M243.8 250.3h0M228.0 230.5h0M216.6 241.7h0M230.6 237.8h0M206.7 243.2h0M225.1 262.2h0M208.3 271.6h0M222.1 245.9h0M224.5 253.9h0M230.7 257.4h0M248.1 265.4h0M211.9 261.7h0M229.8 244.2h0M210.4 246.1h0M217.3 266.0h0M212.9 254.7h0M229.4 263.5h0M224.2 243.9h0M248.3 262.5h0M237.5 269.8h0M238.1 258.1h0M226.1 260.2h0M200.8 261.9h0M207.6 258.1h0M207.1 261.0h0M213.8 278.3h0M222.5 259.0h0M208.5 251.2h0M219.3 251.2h0M214.5 245.5h0M229.9 250.3h0M209.6 257.6h0M209.7 252.3h0M213.5 245.0h0M217.2 246.0h0M204.0 257.4h0M216.3 239.7h0M215.0 255.8h0M225.6 257.7h0M223.3 259.8h0M213.8 246.2h0M228.0 250.0h0M220.2 260.4h0M232.1 265.9h0M211.3 250.4h0M227.2 240.1h0M204.0 259.9h0M212.2 245.0h0M230.4 259.2h0M231.9 250.8h0M216.4 250.7h0M223.9 234.2h0M211.2 260.9h0M210.1 253.4h0M221.7 259.1h0M214.0 243.0h0M252.1 247.0h0M242.0 236.9h0M221.5 252.1h0M244.4 273.9h0M232.6 244.1h0M209.8 246.7h0M213.5 256.6h0M210.1 251.6h0M238.9 268.0h0M196.3 244.8h0M215.4 266.6h0M215.9 272.6h0M224.8 268.0h0M209.1 251.0h0M233.2 259.6h0M196.2 251.3h0M222.4 260.1h0M212.0 270.9h0M222.1 268.1h0M225.3 254.8h0M216.1 242.7h0M231.2 261.4h0M232.1 250.4h0M207.3 250.3h0M216.1 253.9h0M232.7 245.2h0M213.9 260.7h0M231.7 275.5h0M226.9 245.8h0M206.9 246.3h0M221.0 256.5h0M219.3 248.1h0M217.8 253.3h0M227.7 254.8h0M209.8 242.7h0M239.1 253.2h0M217.9 253.8h0M234.5 251.0h0M222.4 251.7h0M227.5 244.2h0M222.7 264.0h0M235.3 260.0h0M223.9 269.3h0M229.2 267.6h0M204.8 243.4h0M230.4 251.4h0M214.7 244.8h0M239.1 242.5h0M221.5 240.5h0M217.9 275.8h0M251.2 249.2h0M207.3 269.8h0M209.2 236.7h0M224.6 243.6h0M201.7 264.9h0M210.9 243.7h0M222.3 252.2h0M234.5 254.9h0M240.5 265.0h0M242.9 264.9h0M221.1 259.3h0M220.5 239.0h0M205.2 261.2h0M203.8 253.4h0M207.0 256.4h0M217.7 249.5h0M209.4 232.5h0M221.1 241.5h0M216.4 257.6h0M233.5 260.8h0M239.0 240.3h0M228.8 269.2h0M225.2 243.3h0M225.3 249.0h0M212.0 264.3h0M217.9 243.2h0M211.6 273.0h0M209.4 260.6h0M222.5 265.3h0M216.7 244.9h0M212.1 244.1h0M253.2 255.9h0M216.1 266.2h0M228.6 252.3h0M228.1 256.7h0M234.5 270.0h0M216.2 253.7h0M217.9 265.9h0M225.1 261.6h0M231.6 247.9h0M221.8 267.4h0M232.0 261.9h0M216.6 250.5h0M209.3 251.4h0M219.4 240.2h0M235.0 246.6h0M223.4 259.8h0M213.2 236.5h0M232.5 258.0h0M217.0 265.0h0M231.6 244.8h0M219.2 237.0h0M216.9 267.7h0M209.6 262.0h0M201.1 251.2h0M232.2 270.6h0M226.0 261.3h0M242.0 230.4h0M198.5 272.3h0M251.5 259.8h0M221.1 256.5h0M220.6 248.1h0M220.0 252.8h0M228.7 260.6h0M232.7 259.7h0M207.9 267.5h0M224.4 248.9h0M244.0 243.5h0M205.4 249.1h0M225.5 261.7h0M221.6 260.5h0M211.3 248.2h0M221.9 241.0h0M222.6 250.2h0M228.9 244.2h0M213.5 248.6h0M215.6 244.4h0M216.9 241.0h0M227.0 260.5h0M220.0 252.2h0M209.0 244.7h0M217.4 245.3h0M205.4 255.6h0M220.0 250.1h0M209.9 253.5h0M211.5 249.9h0M222.6 261.0h0M229.8 248.2h0M235.5 242.8h0M218.0 266.6h0M250.2 255.3h0M215.7 250.4h0M204.9 252.6h0M214.9 246.7h0M235.3 246.5h0M241.6 262.1h0M228.3 248.3h0M213.8 234.7h0M223.7 251.4h0M225.1 247.5h0M226.3 239.6h0M233.7 223.6h0M236.4 250.7h0M218.2 239.2h0M207.6 260.9h0M210.9 253.7h0M218.3 273.2h0M231.4 241.3h0M214.2 242.9h0M202.7 247.4h0M234.1 254.5h0M228.7 252.7h0M214.9 254.8h0M219.2 272.6h0M242.8 257.7h0M227.8 234.8h0M218.7 277.1h0M210.2 261.9h0M235.5 250.2h0M217.4 249.6h0M230.2 254.2h0M239.1 265.5h0M220.1 279.1h0M216.3 248.1h0M217.2 245.5h0M214.9 253.3h0M231.4 238.7h0M202.6 246.5h0M216.4 258.4h0M210.3 268.6h0M213.5 251.9h0M220.9 265.3h0M223.9 254.3h0M213.4 255.7h0M225.2 250.6h0M219.9 236.2h0M213.5 265.5h0M238.0 253.3h0M218.0 278.9h0M215.0 263.7h0M212.4 267.3h0M234.7 243.7h0M236.4 281.7h0M217.4 242.3h0M223.6 250.1h0M201.4 243.9h0M223.2 239.3h0M233.7 258.4h0M217.9 267.6h0M208.6 260.7h0M203.2 250.9h0M228.2 248.8h0M218.7 260.3h0M239.2 266.6h0M225.9 251.5h0M202.0 270.7h0M243.6 233.1h0M231.0 253.6h0M229.0 257.1h0M217.7 254.0h0M219.7 265.3h0M216.9 248.7h0M228.3 260.3h0M225.6 256.8h0M238.6 264.8h0M222.8 252.0h0M228.4 235.9h0M213.6 247.1h0M222.3 250.3h0M251.0 261.2h0M225.2 275.9h0M220.1 250.9h0M235.5 262.1h0M231.7 265.8h0M216.9 224.9h0M211.8 230.8h0M236.6 221.8h0M214.4 219.6h0M251.0 236.2h0M225.3 220.5h0M207.3 225.0h0M222.6 220.1h0M218.9 239.5h0M222.3 230.8h0M220.0 224.6h0M202.2 229.4h0M207.4 225.8h0M199.1 229.3h0M235.3 223.5h0M226.8 218.2h0M230.5 234.2h0M216.5 236.9h0M209.5 230.4h0M246.4 229.8h0M205.9 239.0h0M229.9 227.8h0M195.9 215.3h0M200.2 241.6h0M226.4 223.4h0M238.7 241.4h0M210.0 233.8h0M198.4 232.9h0M248.3 219.0h0M223.0 225.1h0M220.8 230.7h0M226.2 236.9h0M229.5 238.2h0M236.8 238.6h0M212.4 233.2h0M216.8 223.4h0M250.3 232.3h0M222.8 213.6h0M218.8 236.0h0M219.2 225.8h0M243.4 227.6h0M217.3 229.2h0M218.7 238.2h0M230.3 229.5h0M216.9 228.2h0M256.0 195.2h0M277.5 208.9h0M259.7 212.6h0M277.5 217.7h0M278.5 219.7h0M266.2 218.7h0M271.3 220.7h0M269.3 223.8h0M267.2 225.8h0M265.2 227.9h0M263.2 232.0h0M256.0 228.9h0M260.1 226.9h0M268.3 239.1h0M274.4 240.1h0M271.3 243.2h0M278.5 244.2h0M266.2 258.5h0M264.2 248.3h0" stroke="#f5ae4a" stroke-width="2.3" stroke-linecap="round" stroke-opacity="0.75"/>
<path d="M267.6 256.7h0M255.6 243.1h0M251.8 267.4h0M262.7 263.4h0M254.8 263.5h0M260.4 282.0h0M250.4 251.3h0M255.0 258.8h0M255.5 268.3h0M249.9 255.3h0M251.6 246.6h0M251.3 250.5h0M253.3 261.3h0M245.6 247.1h0M248.7 252.7h0M246.5 267.5h0M259.1 246.2h0M258.9 274.6h0M261.1 263.0h0M247.1 278.7h0M244.4 243.6h0M249.2 263.1h0M236.2 246.9h0M270.9 261.2h0M257.1 253.7h0M230.7 258.1h0M263.5 252.8h0M227.6 258.1h0M244.9 260.2h0M236.1 256.7h0M241.9 269.5h0M249.9 269.4h0M247.5 237.1h0M225.7 265.7h0M258.2 269.4h0M247.3 240.8h0M242.5 264.3h0M264.0 256.3h0M241.7 251.7h0M259.8 269.3h0M227.2 273.0h0M237.6 244.2h0M229.8 252.2h0M233.9 252.8h0M249.9 264.5h0M242.6 243.0h0M243.4 252.7h0M227.6 261.6h0M231.3 241.4h0M265.5 270.1h0M264.8 261.3h0M243.4 259.1h0M232.4 268.0h0M251.2 256.7h0M226.7 258.8h0M266.8 275.6h0M258.2 256.2h0M249.7 266.0h0M250.4 271.3h0M240.5 235.1h0M232.3 267.1h0M260.5 260.0h0M254.3 260.8h0M250.1 254.9h0M243.5 272.8h0M245.1 259.6h0M261.9 270.6h0M243.6 262.7h0M236.5 261.4h0M251.8 260.0h0M250.0 263.9h0M249.0 254.7h0M237.1 257.5h0M266.6 257.6h0M240.7 254.8h0M234.5 265.2h0M236.8 269.8h0M258.6 266.2h0M260.1 259.1h0M227.9 259.3h0M255.5 243.4h0M234.1 271.8h0M253.2 274.5h0M255.8 260.7h0M253.1 269.1h0M247.8 257.7h0M251.8 256.6h0M275.9 251.8h0M230.7 246.1h0M260.2 255.6h0M250.0 257.7h0M251.3 244.4h0M249.1 253.8h0M260.6 266.7h0M233.6 249.6h0M254.7 272.9h0M257.0 258.4h0M261.0 234.6h0M242.0 249.5h0M236.3 266.1h0M251.3 263.1h0M246.6 266.7h0M257.2 253.8h0M259.0 250.0h0M268.5 246.0h0M244.8 248.4h0M248.6 274.2h0M239.5 279.1h0M264.5 264.2h0M241.4 269.7h0M259.3 259.6h0M276.9 252.7h0M232.8 257.7h0M254.9 278.4h0M227.8 261.7h0M262.8 252.8h0M242.9 246.9h0M257.0 268.9h0M255.0 262.7h0M259.7 258.7h0M256.5 268.8h0M263.2 265.5h0M249.1 267.6h0M230.2 241.0h0M266.9 261.5h0M235.9 253.7h0M246.4 260.8h0M239.3 270.7h0M235.6 277.9h0M255.9 241.8h0M233.9 260.7h0M251.3 255.4h0M248.3 261.8h0M234.8 260.7h0M274.7 253.0h0M236.3 267.2h0M263.9 271.3h0M240.8 259.2h0M250.5 257.7h0M252.8 271.7h0M257.5 237.9h0M250.2 248.6h0M240.1 249.8h0M259.3 238.5h0M244.9 248.8h0M264.0 243.4h0M272.5 227.4h0M253.1 236.2h0M245.0 238.4h0M257.4 241.1h0M250.8 230.2h0M257.6 241.6h0M272.9 243.5h0M252.3 231.2h0M254.1 242.4h0M257.1 245.9h0M242.0 233.9h0M253.8 230.7h0M246.1 246.2h0M255.0 237.4h0M246.5 238.3h0M251.8 231.6h0M259.9 230.4h0M264.7 236.0h0M255.0 232.9h0M270.0 246.2h0M272.9 243.3h0M265.4 234.4h0M265.0 235.4h0M251.6 229.9h0M278.5 200.3h0M265.2 209.5h0M282.6 208.5h0M283.6 215.6h0M259.1 223.8h0M281.5 224.8h0M293.8 229.9h0M275.4 232.0h0M264.2 227.9h0" stroke="#7a7a80" stroke-width="2.3" stroke-linecap="round" stroke-opacity="0.75"/>
<path d="M270.8 264.0h0M269.4 249.1h0M280.9 269.0h0M269.1 267.8h0M281.9 250.3h0M269.7 241.6h0M257.9 264.2h0M259.7 263.9h0M274.5 239.6h0M264.4 275.1h0M270.3 261.2h0M261.8 244.1h0M268.0 251.4h0M271.5 240.8h0M286.8 277.0h0M261.2 263.2h0M259.4 268.5h0M260.1 258.6h0M285.7 265.2h0M266.3 244.9h0M251.1 272.0h0M276.3 260.6h0M285.2 261.5h0M261.5 259.0h0M269.0 259.9h0M300.0 265.8h0M273.4 257.5h0M262.0 250.1h0M247.7 255.4h0M252.0 241.6h0M258.9 239.8h0M286.6 272.4h0M258.6 280.4h0M278.1 234.8h0M270.4 250.0h0M249.3 257.4h0M284.0 264.4h0M252.6 253.4h0M261.0 271.4h0M269.0 250.2h0M259.2 240.3h0M260.0 268.9h0M247.2 261.9h0M268.8 268.1h0M256.4 269.1h0M288.8 282.9h0M250.6 259.7h0M267.6 261.2h0M258.2 268.6h0M298.3 275.0h0M258.6 254.2h0M278.9 261.4h0M260.9 272.4h0M276.3 270.2h0M268.0 272.8h0M264.5 248.8h0M270.0 246.0h0M285.2 267.3h0M249.9 261.7h0M280.3 256.4h0M275.1 254.2h0M269.3 259.1h0M275.9 250.3h0M256.5 263.3h0M264.0 265.2h0M264.0 246.9h0M279.0 262.7h0M278.9 256.6h0M265.7 272.7h0M249.7 277.4h0M276.3 259.4h0M271.2 266.0h0M260.8 262.8h0M258.6 241.5h0M272.5 261.0h0M277.9 265.6h0M278.5 267.9h0M257.3 272.2h0M302.4 254.3h0M254.9 266.9h0M281.1 270.1h0M288.6 246.1h0M274.6 264.6h0M285.1 251.1h0M270.3 256.3h0M268.1 258.5h0M268.2 242.3h0M269.6 260.7h0M261.7 253.4h0M259.6 276.1h0M281.2 258.1h0M258.3 264.8h0M262.8 274.9h0M283.4 258.8h0M277.4 252.0h0M250.9 268.5h0M289.8 256.9h0M263.7 242.0h0M296.0 248.0h0M258.3 258.0h0M284.7 260.5h0M269.8 260.2h0M280.3 259.6h0M271.9 259.3h0M256.6 273.5h0M261.7 246.8h0M264.8 260.3h0M279.9 245.2h0M254.7 261.8h0M274.7 249.0h0M256.3 261.8h0M268.3 243.8h0M259.5 274.9h0M257.3 270.5h0M251.5 274.9h0M289.4 253.6h0M261.8 266.3h0M255.1 265.5h0M284.7 262.6h0M273.9 258.4h0M282.1 251.8h0M289.2 259.8h0M266.1 243.6h0M264.7 262.4h0M285.0 243.8h0M268.5 253.1h0M255.6 260.0h0M260.9 268.7h0M247.1 240.4h0M276.3 256.6h0M271.6 250.3h0M257.4 252.6h0M269.3 251.6h0M265.0 251.4h0M272.8 248.6h0M244.9 233.6h0M269.8 261.0h0M281.6 252.6h0M256.3 245.0h0M279.2 253.7h0M281.9 259.2h0M266.7 241.3h0M261.9 267.9h0M262.7 266.8h0M250.2 270.2h0M303.6 271.2h0M273.9 247.6h0M263.7 253.4h0M272.2 239.7h0M259.6 267.9h0M271.8 267.5h0M280.3 248.5h0M253.8 264.7h0M270.4 260.8h0M260.2 270.2h0M276.0 271.5h0M265.7 267.0h0M269.3 250.6h0M269.0 243.4h0M267.8 261.8h0M278.4 249.4h0M254.0 252.7h0M245.1 253.4h0M301.5 261.4h0M260.9 253.2h0M291.3 248.3h0M268.6 259.2h0M261.2 252.8h0M249.8 251.6h0M285.7 274.2h0M266.6 267.1h0M275.5 261.1h0M268.4 272.2h0M276.9 257.7h0M267.2 269.4h0M262.9 252.8h0M266.7 255.0h0M285.2 263.6h0M268.9 254.7h0M287.0 264.4h0M295.1 269.1h0M267.4 254.5h0M266.6 261.8h0M279.5 264.9h0M288.9 244.7h0M270.3 245.8h0M257.6 254.0h0M262.2 250.3h0M251.7 271.4h0M266.1 269.7h0M256.7 236.7h0M262.8 268.8h0M263.3 264.0h0M257.0 274.0h0M275.2 270.5h0M266.7 272.8h0M270.9 255.1h0M262.3 260.5h0M259.1 248.0h0M271.6 267.1h0M266.5 268.4h0M289.1 247.3h0M273.1 250.3h0M262.2 261.8h0M280.1 265.4h0M277.8 278.2h0M265.6 271.0h0M287.4 264.9h0M248.5 258.4h0M266.5 243.8h0M269.3 267.6h0M266.9 258.2h0M287.7 253.8h0M258.6 260.4h0M283.5 265.9h0M270.9 255.1h0M284.8 268.9h0M249.1 263.3h0M277.4 253.7h0M254.5 257.0h0M248.9 265.7h0M263.8 242.3h0M269.7 271.9h0M254.7 256.4h0M291.8 261.8h0M263.3 261.9h0M279.4 249.9h0M268.8 243.6h0M250.9 244.6h0M280.1 263.1h0M276.8 243.3h0M268.5 237.4h0M272.9 238.8h0M255.2 234.3h0M266.2 236.2h0M259.0 235.2h0M271.4 237.1h0M275.1 240.9h0M274.7 241.8h0M278.1 244.4h0M275.5 232.3h0M296.0 242.8h0M283.0 240.4h0M268.6 229.1h0M273.2 233.9h0M263.2 223.1h0M286.6 229.0h0M254.8 238.8h0M274.8 231.2h0M267.9 237.5h0M269.9 239.2h0M277.3 233.8h0M263.4 230.0h0M277.0 239.5h0M267.5 237.9h0M293.8 193.2h0M294.8 196.2h0M299.9 195.8h0M304.0 195.8h0M305.0 198.3h0M303.0 200.3h0M299.9 203.4h0M266.2 206.4h0M298.9 214.2h0M311.2 217.7h0M313.2 222.8h0M306.1 227.9h0M286.6 228.9h0M280.5 228.9h0M268.3 233.0h0M272.3 233.4h0M278.5 232.0h0M311.2 234.0h0M268.3 218.7h0M271.3 216.6h0M313.2 237.0h0M317.3 240.1h0M315.3 242.1h0M290.7 248.3h0M292.8 254.4h0M286.6 258.5h0" stroke="#6fbf9c" stroke-width="2.3" stroke-linecap="round" stroke-opacity="0.75"/>
</g>
<circle cx="260.0" cy="190.4" r="0.5" fill="#d62728"/>
<text transform="translate(260.60,191.60) scale(1,1.12)" font-size="4.5" text-anchor="start" fill="#262626" stroke="#262626" stroke-width="0.06">512</text>
<circle cx="200.20000000000002" cy="246.20000000000002" r="0.5" fill="#d62728"/>
<text transform="translate(200.80,247.40) scale(1,1.12)" font-size="4.5" text-anchor="start" fill="#262626" stroke="#262626" stroke-width="0.06">769</text>
<circle cx="213.70000000000002" cy="252.3" r="0.5" fill="#d62728"/>
<text transform="translate(214.30,253.50) scale(1,1.12)" font-size="4.5" text-anchor="start" fill="#262626" stroke="#262626" stroke-width="0.06">729</text>
<circle cx="210.6" cy="258.1" r="0.5" fill="#d62728"/>
<text transform="translate(211.20,259.30) scale(1,1.12)" font-size="4.5" text-anchor="start" fill="#262626" stroke="#262626" stroke-width="0.06">714</text>
<rect x="192.6" y="189.3" width="34.3" height="18.5" rx="1" fill="#EAEAF2" fill-opacity="0.8" stroke="#ccc" stroke-width="0.3"/>
<circle cx="198.7" cy="193.2" r="0.9" fill="#6fbf9c" fill-opacity="0.8"/>
<text transform="translate(205.60,194.70) scale(1,1.12)" font-size="4.3" text-anchor="start" fill="#333333" >benign</text>
<circle cx="198.7" cy="198.7" r="0.9" fill="#7a7a80" fill-opacity="0.8"/>
<text transform="translate(205.60,200.20) scale(1,1.12)" font-size="4.3" text-anchor="start" fill="#333333" >ambiguous</text>
<circle cx="198.7" cy="204.5" r="0.9" fill="#f5ae4a" fill-opacity="0.8"/>
<text transform="translate(205.60,206.00) scale(1,1.12)" font-size="4.3" text-anchor="start" fill="#333333" >pathogenic</text>
<clipPath id="cpD"><rect x="27.2" y="328.6" width="132.3" height="98.4"/></clipPath><g clip-path="url(#cpD)">
<path d="M61.7 333.1h0M64.2 338.6h0M64.7 336.7h0M53.2 342.3h0M54.0 340.9h0M70.3 345.4h0M76.0 342.3h0M79.3 341.1h0M58.1 347.8h0M57.2 345.6h0M63.8 350.9h0M66.0 351.2h0M66.8 353.5h0M69.3 352.9h0M69.8 353.2h0M64.8 354.6h0M67.1 356.4h0M68.9 355.6h0M71.3 355.5h0M73.0 356.6h0M73.6 358.0h0M73.6 359.1h0M75.6 356.6h0M56.6 367.8h0M58.8 368.2h0M54.6 371.3h0M53.0 369.2h0M63.8 375.4h0M72.0 371.9h0M72.3 371.2h0M53.6 379.0h0M57.2 380.5h0M58.0 381.0h0M70.9 378.0h0M69.7 381.3h0M40.3 385.8h0M38.5 385.9h0M60.7 385.8h0M68.9 385.2h0M70.8 383.6h0M71.5 386.6h0M74.5 385.5h0M64.8 390.3h0M67.9 391.3h0M68.9 391.6h0M73.0 389.2h0M74.6 390.7h0M36.8 392.7h0M34.7 394.5h0M52.5 392.3h0M59.7 393.3h0M65.8 393.9h0M61.6 393.0h0M34.8 396.4h0M43.3 398.4h0M46.2 400.0h0M48.5 398.4h0M50.1 399.9h0M54.6 398.0h0M54.6 395.7h0M57.6 396.8h0M62.1 393.9h0M62.8 397.4h0M65.4 397.1h0M65.8 398.4h0M67.4 395.3h0M69.9 398.4h0M71.2 399.2h0M33.1 401.5h0M40.3 401.5h0M41.1 402.9h0M47.4 401.5h0M46.8 401.6h0M53.6 400.9h0M60.7 400.9h0M61.4 400.6h0M65.8 401.5h0M65.2 400.7h0M70.9 400.9h0M69.0 400.3h0M41.3 404.6h0M38.5 405.0h0M45.4 403.5h0M45.4 404.9h0M49.5 405.6h0M55.6 404.6h0M53.8 404.8h0M60.7 404.2h0M61.4 404.2h0M65.8 404.6h0M72.0 403.5h0M71.5 405.1h0M40.3 410.7h0M42.7 412.1h0M45.4 408.6h0M52.5 409.7h0M52.3 410.2h0M56.6 407.6h0M54.1 407.3h0M58.7 408.6h0M61.8 404.3h0M61.7 408.2h0M62.5 408.5h0M66.8 408.6h0M69.0 411.0h0M69.9 408.6h0M74.6 410.3h0M74.0 407.6h0M72.1 406.9h0M49.5 410.7h0M48.7 411.9h0M53.6 411.7h0M57.6 412.3h0M63.8 411.7h0M64.5 413.2h0M41.3 416.8h0M48.5 413.8h0M47.2 415.4h0M53.6 414.8h0M57.6 415.8h0M57.0 414.2h0M62.8 414.8h0M63.1 414.2h0M63.8 417.8h0M62.8 420.1h0M76.4 347.7h0M77.0 354.6h0M78.5 356.6h0M75.7 357.3h0M81.8 354.6h0M81.7 350.9h0M84.6 353.9h0M83.5 351.3h0M77.7 362.7h0M78.8 362.0h0M80.5 362.7h0M85.9 364.8h0M89.0 364.3h0M79.8 366.8h0M81.8 369.6h0M79.9 370.1h0M90.0 367.5h0M94.1 368.9h0M95.0 368.3h0M85.9 370.9h0M86.5 371.7h0M75.7 372.3h0M77.5 372.9h0M96.8 368.9h0M94.7 370.5h0M96.2 373.0h0M95.9 372.4h0M98.2 373.7h0M99.1 373.8h0M76.4 375.7h0M83.9 378.4h0M82.7 377.6h0M85.2 379.8h0M87.2 377.8h0M79.8 379.8h0M92.1 379.8h0M97.5 382.5h0M100.1 382.4h0M109.1 386.0h0M108.3 387.6h0M98.9 386.0h0M83.2 388.7h0M84.9 387.3h0M102.3 392.8h0M101.1 393.6h0M97.5 393.5h0M97.2 391.9h0M75.7 394.1h0M78.4 395.5h0M83.2 395.5h0M86.7 395.9h0M85.9 397.6h0M86.5 396.2h0M88.7 391.4h0M90.2 391.5h0M77.7 399.6h0M77.9 399.7h0M81.1 401.0h0M83.0 399.3h0M88.0 403.7h0M86.7 404.6h0" stroke="#f5ae4a" stroke-width="2.2" stroke-linecap="round" stroke-opacity="0.75"/>
<path d="M74.0 382.5h0M74.0 398.4h0M72.9 399.8h0M84.2 406.6h0M82.0 407.7h0M76.0 410.7h0M90.3 421.9h0M89.2 423.5h0M102.8 342.3h0M101.3 343.5h0M116.5 371.9h0M117.8 374.7h0M117.5 376.0h0M118.1 375.6h0M115.5 394.3h0M98.1 409.7h0M94.0 411.7h0M91.8 409.5h0M119.6 404.6h0M120.5 404.9h0M122.6 401.5h0M123.6 399.5h0M121.6 410.7h0M98.9 347.0h0M97.9 349.1h0M85.9 350.5h0M90.7 348.4h0M91.4 353.2h0M90.1 355.1h0M95.5 351.8h0M95.5 355.2h0M95.6 354.5h0M87.3 354.6h0M107.1 354.6h0M106.6 353.4h0M101.6 358.7h0M101.3 361.0h0M109.1 360.0h0M84.6 360.0h0M91.4 362.7h0M93.9 363.8h0M94.1 362.1h0M93.8 360.4h0M97.5 360.0h0M98.6 360.2h0M100.3 362.7h0M103.0 365.5h0M105.0 363.6h0M106.4 364.1h0M108.4 366.2h0M110.5 365.5h0M109.0 366.6h0M88.7 366.8h0M89.2 366.2h0M92.7 367.5h0M107.8 370.3h0M106.5 371.4h0M87.3 371.6h0M88.3 373.6h0M93.4 370.9h0M99.6 373.7h0M100.3 373.5h0M105.0 374.4h0M104.8 375.8h0M102.3 370.9h0M102.9 370.5h0M109.1 373.0h0M88.7 376.4h0M91.4 378.4h0M90.4 379.7h0M94.1 377.8h0M98.2 378.4h0M100.9 377.1h0M102.2 377.7h0M103.7 377.8h0M106.4 379.1h0M104.7 380.5h0M87.3 380.5h0M85.9 378.7h0M92.7 381.9h0M90.2 383.3h0M97.5 382.5h0M96.2 382.3h0M104.4 383.2h0M107.8 381.9h0M105.9 384.7h0M109.8 384.6h0M99.6 387.3h0M102.3 388.7h0M100.9 389.0h0M106.4 387.3h0M111.9 386.0h0M111.5 385.1h0M85.2 390.1h0M91.4 391.4h0M92.6 390.7h0M95.5 390.1h0M104.4 392.1h0M92.7 394.1h0M89.5 393.1h0M103.7 394.8h0M107.8 394.1h0M88.7 398.2h0M96.8 399.6h0M102.3 399.6h0M103.4 397.7h0M106.4 398.9h0M110.5 396.2h0M110.6 394.4h0M84.6 401.0h0M87.1 400.8h0M91.4 403.7h0" stroke="#77777c" stroke-width="2.2" stroke-linecap="round" stroke-opacity="0.75"/>
<path d="M121.6 360.7h0M123.6 363.1h0M118.5 364.8h0M120.6 365.8h0M125.7 374.0h0M118.5 374.0h0M116.5 379.0h0M122.6 381.7h0M126.7 383.1h0M128.9 381.3h0M118.5 387.2h0M128.8 388.2h0M123.6 392.3h0M130.8 392.3h0M129.9 393.0h0M133.9 390.3h0M136.9 388.2h0M121.6 393.3h0M126.7 397.4h0M131.8 393.3h0M138.0 394.3h0M140.8 394.6h0M142.0 397.4h0M147.1 393.3h0M135.9 399.5h0M136.0 399.5h0M129.8 402.5h0M122.6 406.6h0M121.9 408.1h0M128.8 408.6h0M138.0 407.6h0M142.0 408.6h0M147.1 399.5h0M151.2 400.5h0M150.2 408.2h0M150.0 408.9h0M154.3 408.2h0M145.1 414.4h0M149.2 423.4h0M149.6 422.2h0M106.4 364.1h0M113.2 386.0h0" stroke="#7cc6a2" stroke-width="2.2" stroke-linecap="round" stroke-opacity="0.8"/>
</g>
<circle cx="44.0" cy="392.1" r="0.5" fill="#d62728"/>
<text transform="translate(44.60,393.30) scale(1,1.12)" font-size="4.5" text-anchor="start" fill="#262626" stroke="#262626" stroke-width="0.06">R-W</text>
<circle cx="97.5" cy="364.8" r="0.5" fill="#d62728"/>
<text transform="translate(98.10,366.00) scale(1,1.12)" font-size="4.5" text-anchor="start" fill="#262626" stroke="#262626" stroke-width="0.06">L-R</text>
<circle cx="88.10000000000001" cy="384.3" r="0.5" fill="#d62728"/>
<text transform="translate(88.70,385.50) scale(1,1.12)" font-size="4.5" text-anchor="start" fill="#262626" stroke="#262626" stroke-width="0.06">G-R</text>
<circle cx="119.80000000000001" cy="413.0" r="0.5" fill="#d62728"/>
<text transform="translate(120.40,414.20) scale(1,1.12)" font-size="4.5" text-anchor="start" fill="#262626" stroke="#262626" stroke-width="0.06">Y-F</text>
<rect x="124" y="330.3" width="34.8" height="19.3" rx="1" fill="#EAEAF2" fill-opacity="0.8" stroke="#ccc" stroke-width="0.3"/>
<circle cx="128.8" cy="334.8" r="0.9" fill="#6fbf9c" fill-opacity="0.8"/>
<text transform="translate(135.70,336.30) scale(1,1.12)" font-size="4.3" text-anchor="start" fill="#333333" >benign</text>
<circle cx="128.8" cy="340.2" r="0.9" fill="#7a7a80" fill-opacity="0.8"/>
<text transform="translate(135.70,341.70) scale(1,1.12)" font-size="4.3" text-anchor="start" fill="#333333" >ambiguous</text>
<circle cx="128.8" cy="345.9" r="0.9" fill="#f5ae4a" fill-opacity="0.8"/>
<text transform="translate(135.70,347.40) scale(1,1.12)" font-size="4.3" text-anchor="start" fill="#333333" >pathogenic</text>
<rect x="194.00" y="382.30" width="2.2" height="33.20" fill="#e8413c" fill-opacity="0.27"/>
<line x1="195.10" x2="195.10" y1="382.30" y2="415.50" stroke="#e8413c" stroke-width="0.45" stroke-opacity="0.35"/>
<circle cx="195.1" cy="382.3" r="1.15" fill="#e8413c"/>
<rect x="195.00" y="353.00" width="2.2" height="62.50" fill="#2b8a4e" fill-opacity="0.27"/>
<line x1="196.10" x2="196.10" y1="353.00" y2="415.50" stroke="#2b8a4e" stroke-width="0.45" stroke-opacity="0.35"/>
<circle cx="196.1" cy="353.0" r="1.15" fill="#2b8a4e"/>
<circle cx="196.1" cy="406.9" r="1.2" fill="#2b8a4e"/>
<rect x="196.00" y="363.00" width="2.2" height="52.50" fill="#2b8a4e" fill-opacity="0.27"/>
<line x1="197.10" x2="197.10" y1="363.00" y2="415.50" stroke="#2b8a4e" stroke-width="0.45" stroke-opacity="0.35"/>
<circle cx="197.1" cy="363.0" r="1.15" fill="#2b8a4e"/>
<rect x="197.50" y="361.70" width="2.2" height="53.80" fill="#2b8a4e" fill-opacity="0.27"/>
<line x1="198.60" x2="198.60" y1="361.70" y2="415.50" stroke="#2b8a4e" stroke-width="0.45" stroke-opacity="0.35"/>
<circle cx="198.6" cy="361.7" r="1.15" fill="#2b8a4e"/>
<rect x="198.30" y="370.70" width="2.2" height="44.80" fill="#2b8a4e" fill-opacity="0.27"/>
<line x1="199.40" x2="199.40" y1="370.70" y2="415.50" stroke="#2b8a4e" stroke-width="0.45" stroke-opacity="0.35"/>
<circle cx="199.4" cy="370.7" r="1.15" fill="#2b8a4e"/>
<rect x="201.60" y="401.70" width="2.2" height="13.80" fill="#2b8a4e" fill-opacity="0.27"/>
<line x1="202.70" x2="202.70" y1="401.70" y2="415.50" stroke="#2b8a4e" stroke-width="0.45" stroke-opacity="0.35"/>
<circle cx="202.7" cy="401.7" r="1.15" fill="#2b8a4e"/>
<circle cx="202.7" cy="404.2" r="1.2" fill="#2b8a4e"/>
<rect x="202.70" y="357.20" width="2.2" height="58.30" fill="#e8413c" fill-opacity="0.27"/>
<line x1="203.80" x2="203.80" y1="357.20" y2="415.50" stroke="#e8413c" stroke-width="0.45" stroke-opacity="0.35"/>
<circle cx="203.8" cy="357.2" r="1.15" fill="#e8413c"/>
<rect x="205.80" y="384.30" width="2.2" height="31.20" fill="#3355a8" fill-opacity="0.1"/>
<line x1="206.90" x2="206.90" y1="384.30" y2="415.50" stroke="#3355a8" stroke-width="0.55" stroke-opacity="0.9"/>
<circle cx="206.9" cy="384.3" r="1.15" fill="#3355a8"/>
<rect x="210.10" y="400.70" width="2.2" height="14.80" fill="#2b8a4e" fill-opacity="0.27"/>
<line x1="211.20" x2="211.20" y1="400.70" y2="415.50" stroke="#2b8a4e" stroke-width="0.45" stroke-opacity="0.35"/>
<circle cx="211.2" cy="400.7" r="1.15" fill="#2b8a4e"/>
<circle cx="211.2" cy="406.1" r="1.2" fill="#2b8a4e"/>
<rect x="211.60" y="371.30" width="2.2" height="44.20" fill="#2b8a4e" fill-opacity="0.27"/>
<line x1="212.70" x2="212.70" y1="371.30" y2="415.50" stroke="#2b8a4e" stroke-width="0.45" stroke-opacity="0.35"/>
<circle cx="212.7" cy="371.3" r="1.15" fill="#2b8a4e"/>
<circle cx="212.7" cy="377.9" r="1.2" fill="#2b8a4e"/>
<rect x="214.30" y="369.80" width="2.2" height="45.70" fill="#2b8a4e" fill-opacity="0.27"/>
<line x1="215.40" x2="215.40" y1="369.80" y2="415.50" stroke="#2b8a4e" stroke-width="0.45" stroke-opacity="0.35"/>
<circle cx="215.4" cy="369.8" r="1.15" fill="#2b8a4e"/>
<circle cx="215.4" cy="406.1" r="1.2" fill="#2b8a4e"/>
<rect x="222.20" y="352.80" width="2.2" height="62.70" fill="#3355a8" fill-opacity="0.1"/>
<line x1="223.30" x2="223.30" y1="352.80" y2="415.50" stroke="#3355a8" stroke-width="0.55" stroke-opacity="0.9"/>
<circle cx="223.3" cy="352.8" r="1.15" fill="#3355a8"/>
<rect x="222.50" y="393.90" width="2.2" height="21.60" fill="#2b8a4e" fill-opacity="0.27"/>
<line x1="223.60" x2="223.60" y1="393.90" y2="415.50" stroke="#2b8a4e" stroke-width="0.45" stroke-opacity="0.35"/>
<circle cx="223.6" cy="393.9" r="1.15" fill="#2b8a4e"/>
<rect x="227.40" y="345.00" width="2.2" height="70.50" fill="#2b8a4e" fill-opacity="0.27"/>
<line x1="228.50" x2="228.50" y1="345.00" y2="415.50" stroke="#2b8a4e" stroke-width="0.45" stroke-opacity="0.35"/>
<circle cx="228.5" cy="345.0" r="1.15" fill="#2b8a4e"/>
<circle cx="228.5" cy="385.6" r="1.2" fill="#2b8a4e"/>
<rect x="227.40" y="352.80" width="2.2" height="62.70" fill="#3355a8" fill-opacity="0.1"/>
<line x1="228.50" x2="228.50" y1="352.80" y2="415.50" stroke="#3355a8" stroke-width="0.55" stroke-opacity="0.9"/>
<circle cx="228.5" cy="352.8" r="1.15" fill="#3355a8"/>
<rect x="235.70" y="377.90" width="2.2" height="37.60" fill="#2b8a4e" fill-opacity="0.27"/>
<line x1="236.80" x2="236.80" y1="377.90" y2="415.50" stroke="#2b8a4e" stroke-width="0.45" stroke-opacity="0.35"/>
<circle cx="236.8" cy="377.9" r="1.15" fill="#2b8a4e"/>
<rect x="249.40" y="352.80" width="2.2" height="62.70" fill="#3355a8" fill-opacity="0.1"/>
<line x1="250.50" x2="250.50" y1="352.80" y2="415.50" stroke="#3355a8" stroke-width="0.55" stroke-opacity="0.9"/>
<circle cx="250.5" cy="352.8" r="1.15" fill="#3355a8"/>
<rect x="254.80" y="361.40" width="2.2" height="54.10" fill="#2b8a4e" fill-opacity="0.27"/>
<line x1="255.90" x2="255.90" y1="361.40" y2="415.50" stroke="#2b8a4e" stroke-width="0.45" stroke-opacity="0.35"/>
<circle cx="255.9" cy="361.4" r="1.15" fill="#2b8a4e"/>
<rect x="264.90" y="364.90" width="2.2" height="50.60" fill="#e8413c" fill-opacity="0.27"/>
<line x1="266.00" x2="266.00" y1="364.90" y2="415.50" stroke="#e8413c" stroke-width="0.45" stroke-opacity="0.35"/>
<circle cx="266.0" cy="364.9" r="1.15" fill="#e8413c"/>
<rect x="265.70" y="384.00" width="2.2" height="31.50" fill="#2b8a4e" fill-opacity="0.27"/>
<line x1="266.80" x2="266.80" y1="384.00" y2="415.50" stroke="#2b8a4e" stroke-width="0.45" stroke-opacity="0.35"/>
<circle cx="266.8" cy="384.0" r="1.15" fill="#2b8a4e"/>
<circle cx="266.8" cy="391.0" r="1.2" fill="#2b8a4e"/>
<circle cx="266.8" cy="396.6" r="1.2" fill="#2b8a4e"/>
<rect x="267.10" y="400.00" width="2.2" height="15.50" fill="#2b8a4e" fill-opacity="0.27"/>
<line x1="268.20" x2="268.20" y1="400.00" y2="415.50" stroke="#2b8a4e" stroke-width="0.45" stroke-opacity="0.35"/>
<circle cx="268.2" cy="400.0" r="1.15" fill="#2b8a4e"/>
<rect x="276.60" y="380.90" width="2.2" height="34.60" fill="#2b8a4e" fill-opacity="0.27"/>
<line x1="277.70" x2="277.70" y1="380.90" y2="415.50" stroke="#2b8a4e" stroke-width="0.45" stroke-opacity="0.35"/>
<circle cx="277.7" cy="380.9" r="1.15" fill="#2b8a4e"/>
<circle cx="277.7" cy="393.9" r="1.2" fill="#2b8a4e"/>
<rect x="277.50" y="392.70" width="2.2" height="22.80" fill="#2b8a4e" fill-opacity="0.27"/>
<line x1="278.60" x2="278.60" y1="392.70" y2="415.50" stroke="#2b8a4e" stroke-width="0.45" stroke-opacity="0.35"/>
<circle cx="278.6" cy="392.7" r="1.15" fill="#2b8a4e"/>
<circle cx="278.6" cy="413.2" r="1.2" fill="#2b8a4e"/>
<rect x="278.20" y="389.30" width="2.2" height="26.20" fill="#2b8a4e" fill-opacity="0.27"/>
<line x1="279.30" x2="279.30" y1="389.30" y2="415.50" stroke="#2b8a4e" stroke-width="0.45" stroke-opacity="0.35"/>
<circle cx="279.3" cy="389.3" r="1.15" fill="#2b8a4e"/>
<rect x="279.40" y="340.90" width="2.2" height="74.60" fill="#4b3f99" fill-opacity="0.1"/>
<line x1="280.50" x2="280.50" y1="340.90" y2="415.50" stroke="#4b3f99" stroke-width="0.55" stroke-opacity="0.9"/>
<circle cx="280.5" cy="340.9" r="1.15" fill="#4b3f99"/>
<rect x="307.30" y="370.70" width="2.2" height="44.80" fill="#2b8a4e" fill-opacity="0.27"/>
<line x1="308.40" x2="308.40" y1="370.70" y2="415.50" stroke="#2b8a4e" stroke-width="0.45" stroke-opacity="0.35"/>
<circle cx="308.4" cy="370.7" r="1.15" fill="#2b8a4e"/>
<circle cx="308.4" cy="406.4" r="1.2" fill="#2b8a4e"/>
<rect x="308.50" y="394.50" width="2.2" height="21.00" fill="#2b8a4e" fill-opacity="0.27"/>
<line x1="309.60" x2="309.60" y1="394.50" y2="415.50" stroke="#2b8a4e" stroke-width="0.45" stroke-opacity="0.35"/>
<circle cx="309.6" cy="394.5" r="1.15" fill="#2b8a4e"/>
<circle cx="309.6" cy="400.0" r="1.2" fill="#2b8a4e"/>
<circle cx="309.6" cy="403.6" r="1.2" fill="#2b8a4e"/>
<circle cx="309.6" cy="412.0" r="1.2" fill="#2b8a4e"/>
<rect x="314.60" y="360.20" width="2.2" height="55.30" fill="#2b8a4e" fill-opacity="0.27"/>
<line x1="315.70" x2="315.70" y1="360.20" y2="415.50" stroke="#2b8a4e" stroke-width="0.45" stroke-opacity="0.35"/>
<circle cx="315.7" cy="360.2" r="1.15" fill="#2b8a4e"/>
<line x1="312" x2="318" y1="400.4" y2="400.4" stroke="#999" stroke-width="0.5"/>
<rect x="286" y="338.2" width="32.6" height="20.4" rx="1" fill="#EAEAF2" fill-opacity="0.8" stroke="#ccc" stroke-width="0.3"/>
<text transform="translate(302.70,342.80) scale(1,1.12)" font-size="3.5" text-anchor="middle" fill="#333333" >Modification</text>
<circle cx="289.5" cy="346.6" r="0.9" fill="#e8413c"/>
<text transform="translate(295.20,347.80) scale(1,1.12)" font-size="3.5" text-anchor="start" fill="#333333" >Acetylation</text>
<circle cx="289.5" cy="351.1" r="0.9" fill="#2b8a4e"/>
<text transform="translate(295.20,352.30) scale(1,1.12)" font-size="3.5" text-anchor="start" fill="#333333" >Phosphorylation</text>
<circle cx="289.5" cy="355.7" r="0.9" fill="#3355a8"/>
<text transform="translate(295.20,356.90) scale(1,1.12)" font-size="3.5" text-anchor="start" fill="#333333" >Ubiquitination</text>
</svg></body></html>
